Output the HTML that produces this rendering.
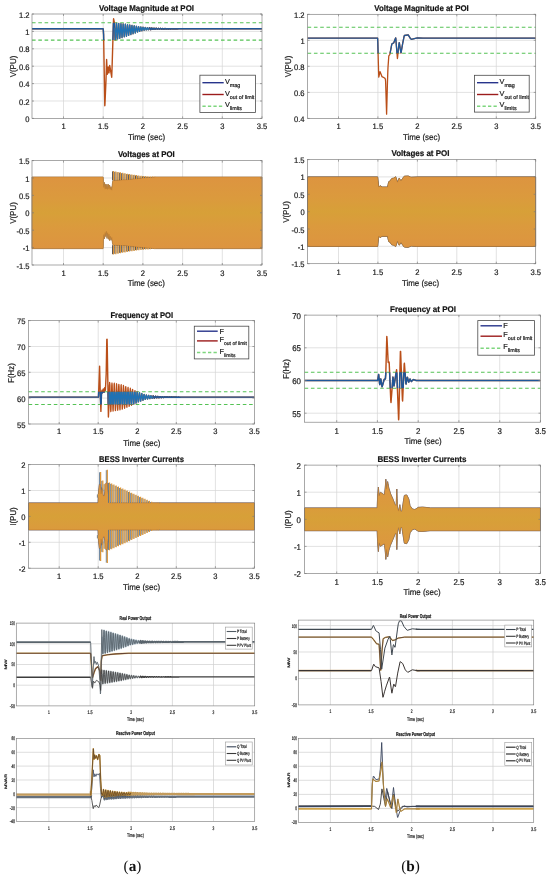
<!DOCTYPE html>
<html lang="en"><head><meta charset="utf-8"><title>Simulation results at POI: (a) and (b)</title>
<style>html,body{margin:0;padding:0;background:#fff}body{width:550px;height:879px;overflow:hidden;position:relative}svg{position:absolute;left:0;top:0;display:block}text{font-family:"Liberation Sans",Arial,sans-serif;fill:#1a1a1a;stroke:#1a1a1a;stroke-width:0.2px}</style></head><body>
<svg width="550" height="879" viewBox="0 0 550 879" text-rendering="geometricPrecision">
<defs><linearGradient id="og" x1="0" y1="0" x2="0" y2="1"><stop offset="0" stop-color="#dd9440"/><stop offset="0.3" stop-color="#db9a3d"/><stop offset="0.5" stop-color="#d7a038"/><stop offset="0.7" stop-color="#db9a3d"/><stop offset="1" stop-color="#dd9440"/></linearGradient></defs>
<rect width="550" height="879" fill="#fff"/>
<rect x="32" y="14" width="230" height="104.4" fill="#fff"/>
<path d="M63.5 14V118.4M103.2 14V118.4M142.9 14V118.4M182.6 14V118.4M222.3 14V118.4M32 101H262M32 83.6H262M32 66.2H262M32 48.8H262M32 31.4H262" stroke="#d6d6d6" stroke-width="0.7" fill="none"/>
<path d="M32 22.7H262" stroke="#55c255" stroke-width="1.05" stroke-dasharray="3.6 2.7" fill="none"/>
<path d="M32 40.1H262" stroke="#55c255" stroke-width="1.05" stroke-dasharray="3.6 2.7" fill="none"/>
<polyline points="32,28.8 103.1,28.8 103.3,29.7 103.6,34.9 104.8,105.7 104.9,105.3 106,79.9 106.6,59.5 107.3,74.3 107.5,73.6 108.1,67 108.2,66.9 108.8,72.1 109,72.8 109.7,65.4 111.7,77.2 112,69.5 113.5,20.7 113.6,18.8 114.4,22.7 114.5,23.9 115.3,38.9 115.4,39.8 115.6,39.1 115.9,34.1" fill="none" stroke="#ba4f19" stroke-width="1.4" stroke-linejoin="round"/>
<clipPath id="c1"><rect x="32" y="22.7" width="230" height="17.4"/></clipPath>
<polyline points="32,28.8 103.1,28.8 103.3,29.7 103.6,34.9 104.8,105.7 104.9,105.3 106,79.9 106.6,59.5 107.3,74.3 107.5,73.6 108.1,67 108.2,66.9 108.8,72.1 109,72.8 109.7,65.4 111.7,77.2 112,69.5 113.5,20.7 113.6,18.8 114.4,22.7 114.5,23.9 115.3,38.9 115.4,39.8 115.6,39.1 115.9,34.1" fill="none" stroke="#1f5799" stroke-width="1.4" stroke-linejoin="round" clip-path="url(#c1)"/>
<polyline points="114.7,27.7 115.2,37.7 115.3,39.4 115.5,39.7 115.6,38.4 116.4,23.8 116.5,23 116.7,23.6 117,28.7 117.4,37.7 117.6,39 117.7,38.8 118,34.6 118.5,25.3 118.6,23.6 118.8,23.3 118.9,24.3 119.7,37.6 119.8,38.4 120,37.8 120.3,33.3 120.7,24.9 120.9,23.6 121,23.7 121.2,25 121.8,35.8 121.9,37.4 122.1,37.7 122.2,36.8 123,24.6 123.1,23.8 123.3,24.2 123.6,28.2 124,35.8 124.2,36.9 124.3,36.9 124.5,35.7 125.1,26 125.2,24.5 125.4,24.1 125.5,24.8 126.3,35.6 126.4,36.3 126.6,35.9 126.9,32.5 127.3,25.7 127.5,24.6 127.6,24.6 127.8,25.5 128.4,33.9 128.5,35.1 128.7,35.5 128.8,34.9 129.6,25.6 129.7,24.9 129.9,25.1 130.2,28 130.6,33.7 130.8,34.6 130.9,34.7 131.1,33.9 131.7,26.8 131.8,25.6 132,25.3 132.1,25.7 132.9,33.3 133,33.9 133.2,33.7 133.5,31.4 133.9,26.6 134.1,25.8 134.2,25.7 134.4,26.3 135,31.9 135.1,32.8 135.3,33.1 135.4,32.7 135.9,29 136.2,26.7 136.3,26.2 136.5,26.3 136.8,28 137.2,31.5 137.4,32.1 137.5,32.2 137.7,31.7 138.3,27.5 138.4,26.8 138.6,26.5 138.7,26.7 139,28.3 139.5,31.1 139.6,31.5 139.8,31.4 140.1,30.1 140.5,27.4 140.7,26.9 140.8,26.8 141,27.1 141.6,30.1 141.7,30.7 141.9,30.9 142,30.7 142.5,28.7 142.8,27.4 142.9,27.1 143.1,27.1 143.4,28 143.8,29.9 144,30.2 144.1,30.3 144.3,30.1 145,27.6 145.2,27.4 145.3,27.5 145.6,28.3 146.1,29.8 146.2,30 146.4,30 146.7,29.4 147.1,28 147.3,27.7 147.4,27.6 147.6,27.8 148.3,29.7 148.5,29.8 148.6,29.8 148.9,29.2 149.4,28 149.5,27.9 149.7,27.9 150,28.3 150.4,29.4 150.6,29.6 150.7,29.6 150.9,29.5 151.6,28.2 151.8,28.1 151.9,28.1 152.4,28.8 152.7,29.3 152.8,29.4 153,29.4 153.3,29.1 153.7,28.4 153.9,28.3 154,28.3 154.3,28.4 154.9,29.2 155.1,29.3 155.4,29.2 156,28.4 156.3,28.3 156.6,28.5 157.2,29.2 157.3,29.2 157.6,29.1 158.2,28.4 158.5,28.4 159,28.8 159.4,29.2 159.7,29.1 160.5,28.4 160.8,28.4 161.5,29.1 161.8,29.1 162.3,28.8 162.7,28.5 163,28.5 163.8,29.1 164.1,29.1 165,28.5 165.3,28.6 166,29 166.3,29 167.1,28.6 167.4,28.6 168.3,29 168.7,28.9 169.3,28.6 169.8,28.7 170.4,28.9 170.8,28.9 171.6,28.6 172,28.7 172.6,28.9 173.1,28.9 173.8,28.7 175,28.9 176.1,28.7 177.3,28.9 178.3,28.7 178.6,28.8" fill="none" stroke="#ba4f19" stroke-width="1.15" stroke-linejoin="round"/>
<clipPath id="c2"><rect x="32" y="22.7" width="230" height="17.4"/></clipPath>
<polyline points="114.7,27.7 115.2,37.7 115.3,39.4 115.5,39.7 115.6,38.4 116.4,23.8 116.5,23 116.7,23.6 117,28.7 117.4,37.7 117.6,39 117.7,38.8 118,34.6 118.5,25.3 118.6,23.6 118.8,23.3 118.9,24.3 119.7,37.6 119.8,38.4 120,37.8 120.3,33.3 120.7,24.9 120.9,23.6 121,23.7 121.2,25 121.8,35.8 121.9,37.4 122.1,37.7 122.2,36.8 123,24.6 123.1,23.8 123.3,24.2 123.6,28.2 124,35.8 124.2,36.9 124.3,36.9 124.5,35.7 125.1,26 125.2,24.5 125.4,24.1 125.5,24.8 126.3,35.6 126.4,36.3 126.6,35.9 126.9,32.5 127.3,25.7 127.5,24.6 127.6,24.6 127.8,25.5 128.4,33.9 128.5,35.1 128.7,35.5 128.8,34.9 129.6,25.6 129.7,24.9 129.9,25.1 130.2,28 130.6,33.7 130.8,34.6 130.9,34.7 131.1,33.9 131.7,26.8 131.8,25.6 132,25.3 132.1,25.7 132.9,33.3 133,33.9 133.2,33.7 133.5,31.4 133.9,26.6 134.1,25.8 134.2,25.7 134.4,26.3 135,31.9 135.1,32.8 135.3,33.1 135.4,32.7 135.9,29 136.2,26.7 136.3,26.2 136.5,26.3 136.8,28 137.2,31.5 137.4,32.1 137.5,32.2 137.7,31.7 138.3,27.5 138.4,26.8 138.6,26.5 138.7,26.7 139,28.3 139.5,31.1 139.6,31.5 139.8,31.4 140.1,30.1 140.5,27.4 140.7,26.9 140.8,26.8 141,27.1 141.6,30.1 141.7,30.7 141.9,30.9 142,30.7 142.5,28.7 142.8,27.4 142.9,27.1 143.1,27.1 143.4,28 143.8,29.9 144,30.2 144.1,30.3 144.3,30.1 145,27.6 145.2,27.4 145.3,27.5 145.6,28.3 146.1,29.8 146.2,30 146.4,30 146.7,29.4 147.1,28 147.3,27.7 147.4,27.6 147.6,27.8 148.3,29.7 148.5,29.8 148.6,29.8 148.9,29.2 149.4,28 149.5,27.9 149.7,27.9 150,28.3 150.4,29.4 150.6,29.6 150.7,29.6 150.9,29.5 151.6,28.2 151.8,28.1 151.9,28.1 152.4,28.8 152.7,29.3 152.8,29.4 153,29.4 153.3,29.1 153.7,28.4 153.9,28.3 154,28.3 154.3,28.4 154.9,29.2 155.1,29.3 155.4,29.2 156,28.4 156.3,28.3 156.6,28.5 157.2,29.2 157.3,29.2 157.6,29.1 158.2,28.4 158.5,28.4 159,28.8 159.4,29.2 159.7,29.1 160.5,28.4 160.8,28.4 161.5,29.1 161.8,29.1 162.3,28.8 162.7,28.5 163,28.5 163.8,29.1 164.1,29.1 165,28.5 165.3,28.6 166,29 166.3,29 167.1,28.6 167.4,28.6 168.3,29 168.7,28.9 169.3,28.6 169.8,28.7 170.4,28.9 170.8,28.9 171.6,28.6 172,28.7 172.6,28.9 173.1,28.9 173.8,28.7 175,28.9 176.1,28.7 177.3,28.9 178.3,28.7 178.6,28.8" fill="none" stroke="#1f72b4" stroke-width="1.15" stroke-linejoin="round" clip-path="url(#c2)"/>
<polyline points="149.3,28.3 149.4,28 149.6,27.8 149.7,27.9 150,28.4 150.5,29.4 150.6,29.6 150.8,29.6 151.1,29.2 151.5,28.3 151.7,28.1 151.8,28.1 152,28.1 152.7,29.3 152.9,29.4 153,29.4 153.5,28.8 153.8,28.4 153.9,28.3 154.1,28.3 154.4,28.5 155,29.2 155.1,29.3 155.4,29.1 156,28.4 156.2,28.3 156.5,28.4 157.1,29.1 157.4,29.2 157.7,29.1 158.3,28.4 158.6,28.4 159.3,29.1 159.6,29.2 160.1,28.8 160.5,28.4 160.8,28.5 161.6,29.1 161.9,29.1 162.6,28.5 162.9,28.5 163.4,28.8 163.8,29.1 164.1,29.1 164.9,28.5 165.2,28.5 166.1,29.1 166.4,29 167.1,28.6 167.4,28.6 168.2,29 168.6,29 169.4,28.6 169.8,28.7 170.4,29 170.9,28.9 171.6,28.6 172.2,28.8 172.8,28.9 173.9,28.7 174.9,28.9 176.1,28.7 177.2,28.9 178.4,28.7 179.6,28.8 180.8,28.8 261.9,28.8" fill="none" stroke="#ba4f19" stroke-width="1.4" stroke-linejoin="round"/>
<clipPath id="c3"><rect x="32" y="22.7" width="230" height="17.4"/></clipPath>
<polyline points="149.3,28.3 149.4,28 149.6,27.8 149.7,27.9 150,28.4 150.5,29.4 150.6,29.6 150.8,29.6 151.1,29.2 151.5,28.3 151.7,28.1 151.8,28.1 152,28.1 152.7,29.3 152.9,29.4 153,29.4 153.5,28.8 153.8,28.4 153.9,28.3 154.1,28.3 154.4,28.5 155,29.2 155.1,29.3 155.4,29.1 156,28.4 156.2,28.3 156.5,28.4 157.1,29.1 157.4,29.2 157.7,29.1 158.3,28.4 158.6,28.4 159.3,29.1 159.6,29.2 160.1,28.8 160.5,28.4 160.8,28.5 161.6,29.1 161.9,29.1 162.6,28.5 162.9,28.5 163.4,28.8 163.8,29.1 164.1,29.1 164.9,28.5 165.2,28.5 166.1,29.1 166.4,29 167.1,28.6 167.4,28.6 168.2,29 168.6,29 169.4,28.6 169.8,28.7 170.4,29 170.9,28.9 171.6,28.6 172.2,28.8 172.8,28.9 173.9,28.7 174.9,28.9 176.1,28.7 177.2,28.9 178.4,28.7 179.6,28.8 180.8,28.8 261.9,28.8" fill="none" stroke="#1f5799" stroke-width="1.4" stroke-linejoin="round" clip-path="url(#c3)"/>
<rect x="32" y="14" width="230" height="104.4" fill="none" stroke="#7a7a7a" stroke-width="0.65"/>
<path d="M63.5 118.4v-2M63.5 14v2M103.2 118.4v-2M103.2 14v2M142.9 118.4v-2M142.9 14v2M182.6 118.4v-2M182.6 14v2M222.3 118.4v-2M222.3 14v2M262 118.4v-2M262 14v2M32 118.4h2M262 118.4h-2M32 101h2M262 101h-2M32 83.6h2M262 83.6h-2M32 66.2h2M262 66.2h-2M32 48.8h2M262 48.8h-2M32 31.4h2M262 31.4h-2M32 14h2M262 14h-2" stroke="#7a7a7a" stroke-width="0.65" fill="none"/>
<text x="63.5" y="129.4" font-size="8" text-anchor="middle" textLength="4.2" lengthAdjust="spacingAndGlyphs">1</text>
<text x="103.2" y="129.4" font-size="8" text-anchor="middle" textLength="10.6" lengthAdjust="spacingAndGlyphs">1.5</text>
<text x="142.9" y="129.4" font-size="8" text-anchor="middle" textLength="4.2" lengthAdjust="spacingAndGlyphs">2</text>
<text x="182.6" y="129.4" font-size="8" text-anchor="middle" textLength="10.6" lengthAdjust="spacingAndGlyphs">2.5</text>
<text x="222.3" y="129.4" font-size="8" text-anchor="middle" textLength="4.2" lengthAdjust="spacingAndGlyphs">3</text>
<text x="262" y="129.4" font-size="8" text-anchor="middle" textLength="10.6" lengthAdjust="spacingAndGlyphs">3.5</text>
<text x="29.5" y="121.9" font-size="8" text-anchor="end" textLength="4.2" lengthAdjust="spacingAndGlyphs">0</text>
<text x="29.5" y="104.5" font-size="8" text-anchor="end" textLength="10.6" lengthAdjust="spacingAndGlyphs">0.2</text>
<text x="29.5" y="87.1" font-size="8" text-anchor="end" textLength="10.6" lengthAdjust="spacingAndGlyphs">0.4</text>
<text x="29.5" y="69.7" font-size="8" text-anchor="end" textLength="10.6" lengthAdjust="spacingAndGlyphs">0.6</text>
<text x="29.5" y="52.3" font-size="8" text-anchor="end" textLength="10.6" lengthAdjust="spacingAndGlyphs">0.8</text>
<text x="29.5" y="34.9" font-size="8" text-anchor="end" textLength="4.2" lengthAdjust="spacingAndGlyphs">1</text>
<text x="29.5" y="17.5" font-size="8" text-anchor="end" textLength="10.6" lengthAdjust="spacingAndGlyphs">1.2</text>
<text x="146.5" y="10.5" font-size="8.3" text-anchor="middle" font-weight="bold" textLength="95" lengthAdjust="spacingAndGlyphs" style='fill:#111;'>Voltage Magnitude at POI</text>
<text x="146.5" y="140" font-size="8.5" text-anchor="middle" textLength="37.2" lengthAdjust="spacingAndGlyphs">Time (sec)</text>
<text x="16" y="66.5" font-size="8.5" text-anchor="middle" textLength="21.6" lengthAdjust="spacingAndGlyphs" transform="rotate(-90 16 66.5)">V(PU)</text>
<rect x="199.9" y="75.2" width="55.7" height="37.3" fill="#fff" stroke="#4a4a4a" stroke-width="0.8"/>
<path d="M202.4 82.7H223.7" stroke="#27348b" stroke-width="1.4"/>
<text x="224.9" y="83.9" font-size="7.3" text-anchor="start">V<tspan font-size="5.4" dy="2.8">mag</tspan></text>
<path d="M202.4 94.5H223.7" stroke="#9c1c1c" stroke-width="1.4"/>
<text x="224.9" y="95.7" font-size="7.3" text-anchor="start">V<tspan font-size="5.4" dy="2.8">out of limit</tspan></text>
<path d="M202.4 106.2H223.7" stroke="#7ed67e" stroke-width="1.4" stroke-dasharray="3.3 2.2"/>
<text x="224.9" y="107.4" font-size="7.3" text-anchor="start">V<tspan font-size="5.4" dy="2.8">limits</tspan></text>
<rect x="32" y="160.6" width="230" height="104.4" fill="#fff"/>
<path d="M63.5 160.6V265M103.2 160.6V265M142.9 160.6V265M182.6 160.6V265M222.3 160.6V265M32 247.6H262M32 230.2H262M32 212.8H262M32 195.4H262M32 178H262" stroke="#d6d6d6" stroke-width="0.7" fill="none"/>
<polygon points="32,177 103.1,177 103.3,178.9 103.4,183.6 103.9,187.6 104.5,182.4 105.1,189.2 105.2,188.9 105.7,184.5 105.8,184.1 106.4,189 107,184.3 107.6,189.4 107.8,188.8 108.2,184.4 108.4,184.2 108.8,188.1 109,188.9 109.6,185 110.2,189.5 110.3,189.3 110.9,186.7 111.1,186.7 111.7,189.9 111.8,190.2 112.6,181.7 112.7,181.3 113.3,180.5 113.6,180.4 127.7,179.7 145,177.8 155.2,177 262,177 262,248.6 154.4,248.6 140.8,247.4 126.4,245.8 113.5,245.2 113.3,245.1 112.7,244.3 112.6,244 111.8,237.4 111.7,237.7 111.1,240.3 110.9,240.1 110.3,236.5 110.2,236.1 109.6,240.6 109,234 108.8,234.8 108.4,239.3 108.2,239 107.8,233.5 107.6,232.7 107,238.4 106.4,231.2 106.1,233.6 105.8,236.6 105.7,236.4 105.2,232.7 105.1,232.5 104.5,238.8 103.9,234.5 103.4,240.1 103.3,246.1 103.1,248.6 32,248.6" fill="#6a5a4a" stroke="#6a5a4a" stroke-width="0.5" stroke-linejoin="round"/>
<polygon points="32,177 103.1,177 103.3,178.9 103.4,183.6 103.9,187.6 104.5,182.4 105.1,189.2 105.2,188.9 105.7,184.5 105.8,184.1 106.4,189 107,184.3 107.6,189.4 107.8,188.8 108.2,184.4 108.4,184.2 108.8,188.1 109,188.9 109.6,185 110.2,189.5 110.3,189.3 110.9,186.7 111.1,186.7 111.7,189.9 111.8,190.2 112.6,181.7 112.7,181.3 113.3,180.5 113.6,180.4 127.7,179.7 145,177.8 155.2,177 262,177 262,248.6 154.4,248.6 140.8,247.4 126.4,245.8 113.5,245.2 113.3,245.1 112.7,244.3 112.6,244 111.8,237.4 111.7,237.7 111.1,240.3 110.9,240.1 110.3,236.5 110.2,236.1 109.6,240.6 109,234 108.8,234.8 108.4,239.3 108.2,239 107.8,233.5 107.6,232.7 107,238.4 106.4,231.2 106.1,233.6 105.8,236.6 105.7,236.4 105.2,232.7 105.1,232.5 104.5,238.8 103.9,234.5 103.4,240.1 103.3,246.1 103.1,248.6 32,248.6" fill="url(#og)" stroke="#c07c2c" stroke-width="0.5"/>
<path d="M112.5 180.4V171.4M112.5 245.2V254.2M114.8 180.3V171.8M114.8 245.3V253.8M117.1 180.2V172.3M117.1 245.4V253.3M119.4 180.1V172.7M119.4 245.5V252.9M121.7 180V173.2M121.7 245.6V252.4M124 179.9V173.6M124 245.7V252M126.3 179.7V174.1M126.3 245.9V251.5M128.6 179.5V174.4M128.6 246.1V251.2M130.9 179.2V174.8M130.9 246.4V250.8M133.2 179V175.1M133.2 246.6V250.5M135.5 178.7V175.5M135.5 246.9V250.1M137.8 178.5V175.8M137.8 247.1V249.8M140.1 178.2V176.1M140.1 247.4V249.5M142.4 178V176.3M142.4 247.6V249.3M144.7 177.8V176.5M144.7 247.8V249.1M147 177.6V176.6M147 248V249M149.3 177.4V176.8M149.3 248.2V248.8M151.6 177.2V176.9M151.6 248.4V248.7M153.9 177V177.1M153.9 248.6V248.5" stroke="#3a3a44" stroke-width="0.9" fill="none"/>
<path d="M113.5 180.4V171M113.5 245.2V254.6M115.8 180.3V171.4M115.8 245.3V254.2M118.1 180.2V171.9M118.1 245.4V253.7M120.4 180.1V172.3M120.4 245.5V253.3M122.7 180V172.8M122.7 245.6V252.8M125 179.9V173.2M125 245.7V252.4M127.3 179.7V173.7M127.3 245.9V251.9M129.6 179.5V174M129.6 246.1V251.6M131.9 179.2V174.4M131.9 246.4V251.2M134.2 179V174.7M134.2 246.6V250.9M136.5 178.7V175.1M136.5 246.9V250.5M138.8 178.5V175.4M138.8 247.1V250.2M141.1 178.2V175.7M141.1 247.4V249.9M143.4 178V175.9M143.4 247.6V249.7M145.7 177.8V176.1M145.7 247.8V249.5M148 177.6V176.2M148 248V249.4M150.3 177.4V176.4M150.3 248.2V249.2M152.6 177.2V176.5M152.6 248.4V249.1M154.9 177V176.7M154.9 248.6V248.9" stroke="#dc9638" stroke-width="1.25" fill="none"/>
<rect x="32" y="160.6" width="230" height="104.4" fill="none" stroke="#7a7a7a" stroke-width="0.65"/>
<path d="M63.5 265v-2M63.5 160.6v2M103.2 265v-2M103.2 160.6v2M142.9 265v-2M142.9 160.6v2M182.6 265v-2M182.6 160.6v2M222.3 265v-2M222.3 160.6v2M262 265v-2M262 160.6v2M32 265h2M262 265h-2M32 247.6h2M262 247.6h-2M32 230.2h2M262 230.2h-2M32 212.8h2M262 212.8h-2M32 195.4h2M262 195.4h-2M32 178h2M262 178h-2M32 160.6h2M262 160.6h-2" stroke="#7a7a7a" stroke-width="0.65" fill="none"/>
<text x="63.5" y="276" font-size="8" text-anchor="middle" textLength="4.2" lengthAdjust="spacingAndGlyphs">1</text>
<text x="103.2" y="276" font-size="8" text-anchor="middle" textLength="10.6" lengthAdjust="spacingAndGlyphs">1.5</text>
<text x="142.9" y="276" font-size="8" text-anchor="middle" textLength="4.2" lengthAdjust="spacingAndGlyphs">2</text>
<text x="182.6" y="276" font-size="8" text-anchor="middle" textLength="10.6" lengthAdjust="spacingAndGlyphs">2.5</text>
<text x="222.3" y="276" font-size="8" text-anchor="middle" textLength="4.2" lengthAdjust="spacingAndGlyphs">3</text>
<text x="262" y="276" font-size="8" text-anchor="middle" textLength="10.6" lengthAdjust="spacingAndGlyphs">3.5</text>
<text x="29.5" y="268.5" font-size="8" text-anchor="end" textLength="13.1" lengthAdjust="spacingAndGlyphs">-1.5</text>
<text x="29.5" y="251.1" font-size="8" text-anchor="end" textLength="6.8" lengthAdjust="spacingAndGlyphs">-1</text>
<text x="29.5" y="233.7" font-size="8" text-anchor="end" textLength="13.1" lengthAdjust="spacingAndGlyphs">-0.5</text>
<text x="29.5" y="216.3" font-size="8" text-anchor="end" textLength="4.2" lengthAdjust="spacingAndGlyphs">0</text>
<text x="29.5" y="198.9" font-size="8" text-anchor="end" textLength="10.6" lengthAdjust="spacingAndGlyphs">0.5</text>
<text x="29.5" y="181.5" font-size="8" text-anchor="end" textLength="4.2" lengthAdjust="spacingAndGlyphs">1</text>
<text x="29.5" y="164.1" font-size="8" text-anchor="end" textLength="10.6" lengthAdjust="spacingAndGlyphs">1.5</text>
<text x="146.3" y="157" font-size="8.3" text-anchor="middle" font-weight="bold" textLength="56.8" lengthAdjust="spacingAndGlyphs" style='fill:#111;'>Voltages at POI</text>
<text x="146.3" y="285.5" font-size="8.5" text-anchor="middle" textLength="37.2" lengthAdjust="spacingAndGlyphs">Time (sec)</text>
<text x="16" y="213" font-size="8.5" text-anchor="middle" textLength="21.6" lengthAdjust="spacingAndGlyphs" transform="rotate(-90 16 213)">V(PU)</text>
<rect x="28.6" y="320.6" width="225.8" height="103.4" fill="#fff"/>
<path d="M59.2 320.6V424M98.2 320.6V424M137.3 320.6V424M176.3 320.6V424M215.4 320.6V424M28.6 398.1H254.4M28.6 372.3H254.4M28.6 346.5H254.4" stroke="#d6d6d6" stroke-width="0.7" fill="none"/>
<path d="M28.6 391.7H254.4" stroke="#55c255" stroke-width="1.05" stroke-dasharray="3.6 2.7" fill="none"/>
<path d="M28.6 404.4H254.4" stroke="#55c255" stroke-width="1.05" stroke-dasharray="3.6 2.7" fill="none"/>
<polyline points="28.6,397.1 98.4,397.1 98.5,396.4 99.6,366.1 100.3,394 100.9,411.4 101.5,393.1 102,390.1 102.1,390.4 102.6,392.7 102.7,392.5 103.3,388.9 103.9,391.9 104.1,392.2 104.7,387.8 105.4,390.3 106.2,373.6 106.8,339.3 107.1,339.2 107.2,343.4 108,391.9 108.4,417 108.9,406.1 109.5,384.5" fill="none" stroke="#ba4f19" stroke-width="1.4" stroke-linejoin="round"/>
<clipPath id="c4"><rect x="28.6" y="391.7" width="225.8" height="12.7"/></clipPath>
<polyline points="28.6,397.1 98.4,397.1 98.5,396.4 99.6,366.1 100.3,394 100.9,411.4 101.5,393.1 102,390.1 102.1,390.4 102.6,392.7 102.7,392.5 103.3,388.9 103.9,391.9 104.1,392.2 104.7,387.8 105.4,390.3 106.2,373.6 106.8,339.3 107.1,339.2 107.2,343.4 108,391.9 108.4,417 108.9,406.1 109.5,384.5" fill="none" stroke="#1f5799" stroke-width="1.4" stroke-linejoin="round" clip-path="url(#c4)"/>
<polyline points="108.9,405.6 109.5,384.3 109.6,382.4 109.8,382.9 110.1,390.6 110.5,407.4 110.7,410.7 110.8,411.7 111,410.3 111.3,401.6 111.7,385.7 111.9,383.2 112,383 112.2,385.1 112.9,409.5 113.1,411.2 113.2,410.6 113.5,403.2 114,387.2 114.1,384.1 114.3,383.2 114.4,384.6 114.9,398.6 115.2,408.1 115.3,410.4 115.5,410.6 115.6,408.4 116.4,385.3 116.5,383.7 116.7,384.4 117,391.6 117.4,406.6 117.6,409.5 117.7,410.3 117.9,408.9 118.3,395.5 118.6,386.6 118.8,384.4 118.9,384.4 119.1,386.5 119.8,408.4 120,409.8 120.1,409.1 120.4,402.2 120.9,388 121,385.3 121.2,384.6 121.3,386 122.1,407.1 122.2,409.1 122.4,409 122.5,407 123.1,389.6 123.3,386.6 123.4,385.4 123.6,386.2 123.9,392.6 124.3,405.5 124.5,407.8 124.6,408.3 124.8,407 125.5,388.1 125.7,386.5 125.8,386.6 126,388.5 126.6,403.9 126.7,406.5 126.9,407.4 127,406.7 127.3,400.9 127.8,389.6 127.9,387.7 128.1,387.3 128.2,388.5 129,405.1 129.1,406.4 129.3,406.2 129.6,401.7 130,391.2 130.2,389 130.3,388.2 130.5,388.9 130.8,394 131.2,403.5 131.4,405.1 131.5,405.4 131.7,404.2 132.4,390.5 132.6,389.4 132.7,389.7 133,393.5 133.5,402 133.6,403.7 133.8,404.3 133.9,403.7 134.2,399.5 134.7,392 134.8,390.7 135,390.6 135.1,391.5 135.9,402.3 136,403.1 136.2,402.9 136.5,399.8 136.9,393.3 137.1,392 137.2,391.7 137.4,392.2 137.8,397.5 138.1,401.1 138.3,402 138.4,402 138.6,401.3 139.3,393.2 139.5,392.6 139.6,392.8 139.9,395.1 140.4,400 140.5,400.9 140.7,401.2 140.8,400.8 141.6,394.2 141.7,393.6 141.9,393.5 142,394.1 142.6,399.1 142.8,399.9 142.9,400.3 143.1,400.1 143.4,398.4 143.8,395.1 144,394.5 144.1,394.4 144.3,394.7 145,399 145.2,399.4 145.3,399.4 145.5,399 146.2,395.2 146.4,395 146.5,395.1 146.8,396.2 147.3,398.5 147.4,399 147.6,399.1 147.7,398.9 148.5,395.6 148.6,395.3 148.8,395.4 148.9,395.6 149.5,398.2 149.7,398.6 149.8,398.7 150,398.6 150.3,397.8 150.7,396 150.9,395.7 151,395.7 151.2,395.8 151.9,398.2 152.1,398.4 152.2,398.4 152.5,397.8 153,396.4 153.1,396.1 153.3,396 153.4,396.1 153.9,397.1 154.2,397.9 154.3,398 154.5,398.1 154.6,397.9 155.4,396.4 155.5,396.3 155.7,396.3 156,396.7 156.4,397.5 156.6,397.7 156.7,397.7 157,397.6 157.6,396.7 157.8,396.6 157.9,396.5 158.2,396.8 158.8,397.6 159,397.7 159.1,397.7 159.4,397.4 160,396.6 160.2,396.6 160.5,396.8 161.1,397.5 161.4,397.6 161.7,397.4 162.3,396.7 162.6,396.7 163,397.1 163.5,397.5 163.8,397.5 164.5,396.8 164.8,396.7 165.3,397 165.7,397.4 166,397.5 166.9,396.8 167.2,396.8 168.1,397.4 168.4,397.4 169.2,396.9 169.5,396.9 170.4,397.3 170.8,397.3 171.6,396.9 172,397 172.8,397.3 173.4,397.1 174,397 175,397.2 175.8,397.1 176.2,397" fill="none" stroke="#ba4f19" stroke-width="1.2" stroke-linejoin="round"/>
<clipPath id="c5"><rect x="28.6" y="391.7" width="225.8" height="12.7"/></clipPath>
<polyline points="108.9,405.6 109.5,384.3 109.6,382.4 109.8,382.9 110.1,390.6 110.5,407.4 110.7,410.7 110.8,411.7 111,410.3 111.3,401.6 111.7,385.7 111.9,383.2 112,383 112.2,385.1 112.9,409.5 113.1,411.2 113.2,410.6 113.5,403.2 114,387.2 114.1,384.1 114.3,383.2 114.4,384.6 114.9,398.6 115.2,408.1 115.3,410.4 115.5,410.6 115.6,408.4 116.4,385.3 116.5,383.7 116.7,384.4 117,391.6 117.4,406.6 117.6,409.5 117.7,410.3 117.9,408.9 118.3,395.5 118.6,386.6 118.8,384.4 118.9,384.4 119.1,386.5 119.8,408.4 120,409.8 120.1,409.1 120.4,402.2 120.9,388 121,385.3 121.2,384.6 121.3,386 122.1,407.1 122.2,409.1 122.4,409 122.5,407 123.1,389.6 123.3,386.6 123.4,385.4 123.6,386.2 123.9,392.6 124.3,405.5 124.5,407.8 124.6,408.3 124.8,407 125.5,388.1 125.7,386.5 125.8,386.6 126,388.5 126.6,403.9 126.7,406.5 126.9,407.4 127,406.7 127.3,400.9 127.8,389.6 127.9,387.7 128.1,387.3 128.2,388.5 129,405.1 129.1,406.4 129.3,406.2 129.6,401.7 130,391.2 130.2,389 130.3,388.2 130.5,388.9 130.8,394 131.2,403.5 131.4,405.1 131.5,405.4 131.7,404.2 132.4,390.5 132.6,389.4 132.7,389.7 133,393.5 133.5,402 133.6,403.7 133.8,404.3 133.9,403.7 134.2,399.5 134.7,392 134.8,390.7 135,390.6 135.1,391.5 135.9,402.3 136,403.1 136.2,402.9 136.5,399.8 136.9,393.3 137.1,392 137.2,391.7 137.4,392.2 137.8,397.5 138.1,401.1 138.3,402 138.4,402 138.6,401.3 139.3,393.2 139.5,392.6 139.6,392.8 139.9,395.1 140.4,400 140.5,400.9 140.7,401.2 140.8,400.8 141.6,394.2 141.7,393.6 141.9,393.5 142,394.1 142.6,399.1 142.8,399.9 142.9,400.3 143.1,400.1 143.4,398.4 143.8,395.1 144,394.5 144.1,394.4 144.3,394.7 145,399 145.2,399.4 145.3,399.4 145.5,399 146.2,395.2 146.4,395 146.5,395.1 146.8,396.2 147.3,398.5 147.4,399 147.6,399.1 147.7,398.9 148.5,395.6 148.6,395.3 148.8,395.4 148.9,395.6 149.5,398.2 149.7,398.6 149.8,398.7 150,398.6 150.3,397.8 150.7,396 150.9,395.7 151,395.7 151.2,395.8 151.9,398.2 152.1,398.4 152.2,398.4 152.5,397.8 153,396.4 153.1,396.1 153.3,396 153.4,396.1 153.9,397.1 154.2,397.9 154.3,398 154.5,398.1 154.6,397.9 155.4,396.4 155.5,396.3 155.7,396.3 156,396.7 156.4,397.5 156.6,397.7 156.7,397.7 157,397.6 157.6,396.7 157.8,396.6 157.9,396.5 158.2,396.8 158.8,397.6 159,397.7 159.1,397.7 159.4,397.4 160,396.6 160.2,396.6 160.5,396.8 161.1,397.5 161.4,397.6 161.7,397.4 162.3,396.7 162.6,396.7 163,397.1 163.5,397.5 163.8,397.5 164.5,396.8 164.8,396.7 165.3,397 165.7,397.4 166,397.5 166.9,396.8 167.2,396.8 168.1,397.4 168.4,397.4 169.2,396.9 169.5,396.9 170.4,397.3 170.8,397.3 171.6,396.9 172,397 172.8,397.3 173.4,397.1 174,397 175,397.2 175.8,397.1 176.2,397" fill="none" stroke="#1f72b4" stroke-width="1.2" stroke-linejoin="round" clip-path="url(#c5)"/>
<polyline points="152.9,396.5 153,396.2 153.2,396 153.3,396 153.6,396.5 154.1,397.7 154.2,398 154.4,398.1 154.5,398 155,397.1 155.3,396.5 155.4,396.4 155.6,396.3 155.9,396.6 156.5,397.6 156.6,397.7 156.9,397.6 157.7,396.6 157.8,396.5 158,396.6 158.4,397.1 158.9,397.6 159,397.7 159.3,397.5 159.9,396.7 160.1,396.6 160.2,396.6 160.5,396.8 161.1,397.6 161.3,397.6 161.6,397.5 162.2,396.8 162.5,396.7 162.8,396.8 163.4,397.5 163.7,397.5 164.1,397.2 164.6,396.8 164.9,396.8 165.8,397.4 166.1,397.4 166.8,396.9 167.1,396.8 168,397.4 168.3,397.4 169.2,396.9 169.7,397 170.3,397.3 170.7,397.3 171.5,397 171.9,397 172.7,397.3 173.3,397.1 173.9,397 174.6,397.2 175.2,397.2 176.3,397 177.5,397.2 178.5,397 179.7,397.2 181.1,397.1 182.4,397.1 254.3,397.1" fill="none" stroke="#ba4f19" stroke-width="1.4" stroke-linejoin="round"/>
<clipPath id="c6"><rect x="28.6" y="391.7" width="225.8" height="12.7"/></clipPath>
<polyline points="152.9,396.5 153,396.2 153.2,396 153.3,396 153.6,396.5 154.1,397.7 154.2,398 154.4,398.1 154.5,398 155,397.1 155.3,396.5 155.4,396.4 155.6,396.3 155.9,396.6 156.5,397.6 156.6,397.7 156.9,397.6 157.7,396.6 157.8,396.5 158,396.6 158.4,397.1 158.9,397.6 159,397.7 159.3,397.5 159.9,396.7 160.1,396.6 160.2,396.6 160.5,396.8 161.1,397.6 161.3,397.6 161.6,397.5 162.2,396.8 162.5,396.7 162.8,396.8 163.4,397.5 163.7,397.5 164.1,397.2 164.6,396.8 164.9,396.8 165.8,397.4 166.1,397.4 166.8,396.9 167.1,396.8 168,397.4 168.3,397.4 169.2,396.9 169.7,397 170.3,397.3 170.7,397.3 171.5,397 171.9,397 172.7,397.3 173.3,397.1 173.9,397 174.6,397.2 175.2,397.2 176.3,397 177.5,397.2 178.5,397 179.7,397.2 181.1,397.1 182.4,397.1 254.3,397.1" fill="none" stroke="#1f5799" stroke-width="1.4" stroke-linejoin="round" clip-path="url(#c6)"/>
<rect x="28.6" y="320.6" width="225.8" height="103.4" fill="none" stroke="#7a7a7a" stroke-width="0.65"/>
<path d="M59.2 424v-2M59.2 320.6v2M98.2 424v-2M98.2 320.6v2M137.3 424v-2M137.3 320.6v2M176.3 424v-2M176.3 320.6v2M215.4 424v-2M215.4 320.6v2M254.4 424v-2M254.4 320.6v2M28.6 424h2M254.4 424h-2M28.6 398.1h2M254.4 398.1h-2M28.6 372.3h2M254.4 372.3h-2M28.6 346.5h2M254.4 346.5h-2M28.6 320.6h2M254.4 320.6h-2" stroke="#7a7a7a" stroke-width="0.65" fill="none"/>
<text x="59.2" y="434.3" font-size="8" text-anchor="middle" textLength="4.2" lengthAdjust="spacingAndGlyphs">1</text>
<text x="98.2" y="434.3" font-size="8" text-anchor="middle" textLength="10.6" lengthAdjust="spacingAndGlyphs">1.5</text>
<text x="137.3" y="434.3" font-size="8" text-anchor="middle" textLength="4.2" lengthAdjust="spacingAndGlyphs">2</text>
<text x="176.3" y="434.3" font-size="8" text-anchor="middle" textLength="10.6" lengthAdjust="spacingAndGlyphs">2.5</text>
<text x="215.4" y="434.3" font-size="8" text-anchor="middle" textLength="4.2" lengthAdjust="spacingAndGlyphs">3</text>
<text x="254.4" y="434.3" font-size="8" text-anchor="middle" textLength="10.6" lengthAdjust="spacingAndGlyphs">3.5</text>
<text x="25.5" y="427.5" font-size="8" text-anchor="end" textLength="8.5" lengthAdjust="spacingAndGlyphs">55</text>
<text x="25.5" y="401.6" font-size="8" text-anchor="end" textLength="8.5" lengthAdjust="spacingAndGlyphs">60</text>
<text x="25.5" y="375.8" font-size="8" text-anchor="end" textLength="8.5" lengthAdjust="spacingAndGlyphs">65</text>
<text x="25.5" y="349.9" font-size="8" text-anchor="end" textLength="8.5" lengthAdjust="spacingAndGlyphs">70</text>
<text x="25.5" y="324.1" font-size="8" text-anchor="end" textLength="8.5" lengthAdjust="spacingAndGlyphs">75</text>
<text x="141.8" y="317.5" font-size="8.3" text-anchor="middle" font-weight="bold" textLength="62.8" lengthAdjust="spacingAndGlyphs" style='fill:#111;'>Frequency at POI</text>
<text x="141.8" y="446" font-size="8.5" text-anchor="middle" textLength="37.2" lengthAdjust="spacingAndGlyphs">Time (sec)</text>
<text x="14" y="373" font-size="8.5" text-anchor="middle" textLength="19.9" lengthAdjust="spacingAndGlyphs" transform="rotate(-90 14 373)">F(Hz)</text>
<rect x="194.3" y="326.2" width="54.5" height="32.7" fill="#fff" stroke="#4a4a4a" stroke-width="0.8"/>
<path d="M197 331.2H217.7" stroke="#27348b" stroke-width="1.4"/>
<text x="219.6" y="333.8" font-size="7.3" text-anchor="start">F</text>
<path d="M197 340.9H217.7" stroke="#9c1c1c" stroke-width="1.4"/>
<text x="219.6" y="342.1" font-size="7.3" text-anchor="start">F<tspan font-size="5" dy="2.8">out of limit</tspan></text>
<path d="M197 352.5H217.7" stroke="#7ed67e" stroke-width="1.4" stroke-dasharray="3.3 2.2"/>
<text x="219.6" y="353.7" font-size="7.3" text-anchor="start">F<tspan font-size="5" dy="2.8">limits</tspan></text>
<rect x="28.6" y="464.6" width="225.8" height="103.6" fill="#fff"/>
<path d="M59.2 464.6V568.2M98.2 464.6V568.2M137.3 464.6V568.2M176.3 464.6V568.2M215.4 464.6V568.2M28.6 542.3H254.4M28.6 516.4H254.4M28.6 490.5H254.4" stroke="#d6d6d6" stroke-width="0.7" fill="none"/>
<polygon points="28.6,502.9 97.9,502.9 98.1,501.9 98.5,492.1 99.3,485.2 99.4,484.3 100.5,484.3 100.6,484.6 101.1,493.9 101.7,488.6 101.8,487.7 102.6,488.4 102.9,492 103,494.3 103.2,495.5 104.1,496.2 104.5,493.8 105.6,487.9 105.9,483.7 106,483 107.2,483 107.4,484.1 107.7,490.1 108,492.3 108.3,493.8 108.7,490.5 108.9,502.9 254.4,502.9 254.4,529.9 108.9,529.9 108.7,542.3 108.3,539 107.8,541.4 107.7,542.7 107.4,548.7 107.2,549.8 106,549.8 105.9,549.1 105.6,544.9 104.2,537.2 104.1,536.6 103.2,537.3 103,538.5 102.7,543 102.6,544.4 101.8,545.1 101.4,541.5 101.1,538.9 100.6,548.2 100.5,548.5 99.4,548.5 99.3,547.6 98.5,540.7 98.1,530.9 97.9,529.9 28.6,529.9" fill="#4b5a86" stroke="#4b5a86" stroke-width="0.9" stroke-linejoin="round"/>
<polygon points="28.6,502.9 97.9,502.9 98.1,501.9 98.5,492.1 99.3,485.2 99.4,484.3 100.5,484.3 100.6,484.6 101.1,493.9 101.7,488.6 101.8,487.7 102.6,488.4 102.9,492 103,494.3 103.2,495.5 104.1,496.2 104.5,493.8 105.6,487.9 105.9,483.7 106,483 107.2,483 107.4,484.1 107.7,490.1 108,492.3 108.3,493.8 108.7,490.5 108.9,502.9 254.4,502.9 254.4,529.9 108.9,529.9 108.7,542.3 108.3,539 107.8,541.4 107.7,542.7 107.4,548.7 107.2,549.8 106,549.8 105.9,549.1 105.6,544.9 104.2,537.2 104.1,536.6 103.2,537.3 103,538.5 102.7,543 102.6,544.4 101.8,545.1 101.4,541.5 101.1,538.9 100.6,548.2 100.5,548.5 99.4,548.5 99.3,547.6 98.5,540.7 98.1,530.9 97.9,529.9 28.6,529.9" fill="url(#og)" stroke="#c07c2c" stroke-width="0.5"/>
<path d="M97.4 497.6V494.5M97.4 535.2V538.3M99.6 484.3V472.3M99.6 548.5V560.5M101.8 489.5V480.9M101.8 543.3V551.9M104.1 491.5V484.2M104.1 541.3V548.6M106.3 483V470.2M106.3 549.8V562.6M108.5 502.9V482.9M108.5 529.9V549.9M110.7 502.9V483.9M110.7 529.9V548.9M112.9 502.9V484.9M112.9 529.9V547.9M115.2 502.9V485.9M115.2 529.9V546.9M117.4 502.9V487M117.4 529.9V545.8M119.6 502.9V488M119.6 529.9V544.8M121.8 502.9V489M121.8 529.9V543.8M124 502.9V490M124 529.9V542.8M126.2 502.9V491M126.2 529.9V541.8M128.5 502.9V492M128.5 529.9V540.8M130.7 502.9V493.1M130.7 529.9V539.7M132.9 502.9V494.1M132.9 529.9V538.7M135.1 502.9V495.1M135.1 529.9V537.7M137.3 502.9V496.1M137.3 529.9V536.7M139.6 502.9V497.1M139.6 529.9V535.7M141.8 502.9V498.1M141.8 529.9V534.7M144 502.9V499.1M144 529.9V533.7M146.2 502.9V500.2M146.2 529.9V532.6M148.4 502.9V501.2M148.4 529.9V531.6M150.7 502.9V502.2M150.7 529.9V530.6M152.9 502.9V502.9M152.9 529.9V529.9M155.1 502.9V502.9M155.1 529.9V529.9M157.3 502.9V503M157.3 529.9V529.8M159.5 502.9V503.1M159.5 529.9V529.7" stroke="#4f6f92" stroke-width="0.9" fill="none"/>
<path d="M98.4 497.6V494.1M98.4 535.2V538.7M100.6 484.3V471.9M100.6 548.5V560.9M102.8 489.5V480.5M102.8 543.3V552.3M105.1 491.5V483.8M105.1 541.3V549M107.3 483V469.8M107.3 549.8V563M109.5 502.9V482.5M109.5 529.9V550.3M111.7 502.9V483.5M111.7 529.9V549.3M113.9 502.9V484.5M113.9 529.9V548.3M116.2 502.9V485.5M116.2 529.9V547.3M118.4 502.9V486.6M118.4 529.9V546.2M120.6 502.9V487.6M120.6 529.9V545.2M122.8 502.9V488.6M122.8 529.9V544.2M125 502.9V489.6M125 529.9V543.2M127.2 502.9V490.6M127.2 529.9V542.2M129.5 502.9V491.6M129.5 529.9V541.2M131.7 502.9V492.7M131.7 529.9V540.1M133.9 502.9V493.7M133.9 529.9V539.1M136.1 502.9V494.7M136.1 529.9V538.1M138.3 502.9V495.7M138.3 529.9V537.1M140.6 502.9V496.7M140.6 529.9V536.1M142.8 502.9V497.7M142.8 529.9V535.1M145 502.9V498.7M145 529.9V534.1M147.2 502.9V499.8M147.2 529.9V533M149.4 502.9V500.8M149.4 529.9V532M151.7 502.9V501.8M151.7 529.9V531M153.9 502.9V502.5M153.9 529.9V530.3M156.1 502.9V502.5M156.1 529.9V530.3M158.3 502.9V502.6M158.3 529.9V530.2M160.5 502.9V502.7M160.5 529.9V530.1" stroke="#dc9638" stroke-width="1.25" fill="none"/>
<rect x="28.6" y="464.6" width="225.8" height="103.6" fill="none" stroke="#7a7a7a" stroke-width="0.65"/>
<path d="M59.2 568.2v-2M59.2 464.6v2M98.2 568.2v-2M98.2 464.6v2M137.3 568.2v-2M137.3 464.6v2M176.3 568.2v-2M176.3 464.6v2M215.4 568.2v-2M215.4 464.6v2M254.4 568.2v-2M254.4 464.6v2M28.6 568.2h2M254.4 568.2h-2M28.6 542.3h2M254.4 542.3h-2M28.6 516.4h2M254.4 516.4h-2M28.6 490.5h2M254.4 490.5h-2M28.6 464.6h2M254.4 464.6h-2" stroke="#7a7a7a" stroke-width="0.65" fill="none"/>
<text x="59.2" y="578.5" font-size="8" text-anchor="middle" textLength="4.2" lengthAdjust="spacingAndGlyphs">1</text>
<text x="98.2" y="578.5" font-size="8" text-anchor="middle" textLength="10.6" lengthAdjust="spacingAndGlyphs">1.5</text>
<text x="137.3" y="578.5" font-size="8" text-anchor="middle" textLength="4.2" lengthAdjust="spacingAndGlyphs">2</text>
<text x="176.3" y="578.5" font-size="8" text-anchor="middle" textLength="10.6" lengthAdjust="spacingAndGlyphs">2.5</text>
<text x="215.4" y="578.5" font-size="8" text-anchor="middle" textLength="4.2" lengthAdjust="spacingAndGlyphs">3</text>
<text x="254.4" y="578.5" font-size="8" text-anchor="middle" textLength="10.6" lengthAdjust="spacingAndGlyphs">3.5</text>
<text x="25.5" y="571.7" font-size="8" text-anchor="end" textLength="6.8" lengthAdjust="spacingAndGlyphs">-2</text>
<text x="25.5" y="545.8" font-size="8" text-anchor="end" textLength="6.8" lengthAdjust="spacingAndGlyphs">-1</text>
<text x="25.5" y="519.9" font-size="8" text-anchor="end" textLength="4.2" lengthAdjust="spacingAndGlyphs">0</text>
<text x="25.5" y="494" font-size="8" text-anchor="end" textLength="4.2" lengthAdjust="spacingAndGlyphs">1</text>
<text x="25.5" y="468.1" font-size="8" text-anchor="end" textLength="4.2" lengthAdjust="spacingAndGlyphs">2</text>
<text x="141.5" y="461.5" font-size="8.3" text-anchor="middle" font-weight="bold" textLength="84.8" lengthAdjust="spacingAndGlyphs" style='fill:#111;'>BESS Inverter Currents</text>
<text x="141.5" y="590" font-size="8.5" text-anchor="middle" textLength="37.2" lengthAdjust="spacingAndGlyphs">Time (sec)</text>
<text x="16" y="516.5" font-size="8.5" text-anchor="middle" textLength="18.5" lengthAdjust="spacingAndGlyphs" transform="rotate(-90 16 516.5)">I(PU)</text>
<rect x="16.3" y="623.1" width="238.4" height="82.8" fill="#fff"/>
<path d="M48.9 623.1V705.9M90.1 623.1V705.9M131.2 623.1V705.9M172.4 623.1V705.9M213.5 623.1V705.9M16.3 685.2H254.7M16.3 664.5H254.7M16.3 643.8H254.7" stroke="#d0d0d0" stroke-width="0.7" fill="none"/>
<polyline points="16.3,653.3 90.5,653.3 90.7,654.2 92.3,675.8 92.5,677.6 94.1,672.4 95.5,668.8 95.7,668.5 97.9,666.7 98.1,666.7 99.7,670.8 100.5,679.2 100.7,680.4 101.3,661.5 101.5,659.5 102.1,656.1 102.3,655.8 107.5,654.7 116.1,653.9 128.5,653.3 254.7,653.3" fill="none" stroke="#dcb970" stroke-width="1.6" stroke-linejoin="round"/>
<polyline points="16.3,653.3 90.5,653.3 90.7,654.2 92.3,675.8 92.5,677.6 94.1,672.4 95.5,668.8 95.7,668.5 97.9,666.7 98.1,666.7 99.7,670.8 100.5,679.2 100.7,680.4 101.3,661.5 101.5,659.5 102.1,656.1 102.3,655.8 107.5,654.7 116.1,653.9 128.5,653.3 254.7,653.3" fill="none" stroke="#664434" stroke-width="1.1" stroke-linejoin="round"/>
<polyline points="102.2,636.7 102.6,650.6 102.8,653.3 102.9,654 103.1,652.7 103.5,640.4 103.8,632.3 104,630.4 104.1,630.5 104.3,632.4 104.9,649.3 105,652.2 105.2,653.3 105.3,652.5 105.6,646.2 106.1,633.6 106.2,631.4 106.4,631 106.5,632.4 107.3,651 107.4,652.5 107.6,652.2 107.9,646.9 108.3,634.8 108.5,632.4 108.6,631.6 108.8,632.5 109.1,638.6 109.5,649.9 109.7,651.7 109.8,651.8 110,650.3 110.7,633.5 110.9,632.3 111,632.8 111.3,638 111.8,648.7 111.9,650.7 112.1,651.2 112.2,650.2 113,634.5 113.1,633.1 113.3,633.2 113.4,634.7 114,647.6 114.2,649.7 114.3,650.5 114.5,649.9 114.8,645 115.2,635.6 115.4,634 115.5,633.8 115.7,634.9 116.4,648.7 116.6,649.8 116.7,649.5 117,645.5 117.5,636.7 117.6,635 117.8,634.4 117.9,635.1 118.4,642.6 118.7,647.7 118.8,648.9 119,649 119.1,647.9 119.9,635.9 120,635.2 120.2,635.5 120.5,639.2 120.9,646.7 121.1,648 121.2,648.4 121.4,647.6 122.1,636.9 122.3,636 122.4,636.1 122.7,639 123.2,645.7 123.3,647.1 123.5,647.5 123.6,647.1 123.9,643.9 124.4,637.9 124.5,636.9 124.7,636.8 124.8,637.6 125.6,646 125.7,646.6 125.9,646.4 126.2,644 126.6,638.9 126.8,637.9 126.9,637.7 127.1,638.1 127.8,645.1 128,645.7 128.1,645.7 128.3,645.1 128.9,639.7 129,638.9 129.2,638.5 129.3,638.8 129.6,640.6 130.1,644.3 130.2,644.9 130.4,645 130.5,644.6 131.3,639.5 131.4,639.1 131.6,639.2 131.9,640.6 132.3,643.7 132.5,644.3 132.6,644.5 132.8,644.3 133.2,641.8 133.5,640.1 133.7,639.7 133.8,639.7 134,640 134.7,643.7 134.9,643.9 135,643.8 135.3,642.8 135.8,640.7 135.9,640.3 136.1,640.2 136.2,640.4 137,643.2 137.1,643.4 137.3,643.3 137.6,642.7 138,641.1 138.2,640.8 138.3,640.6 138.5,640.7 138.8,641.4 139.2,642.8 139.4,643.1" fill="none" stroke="#a9bac6" stroke-width="1.6" stroke-linejoin="round"/>
<polyline points="16.3,642.1 90.6,642.1" fill="none" stroke="#59646c" stroke-width="1.9" stroke-linejoin="round"/>
<polyline points="90.2,642.1 90.5,642.1 90.7,643.2 92.2,684.7 92.3,686.9 93.8,658.3 94,656.6 94.7,663.4 94.9,663.3 95.5,661.5 95.6,661.4 96.4,664.4 96.8,663.2 97.1,662.3 97.3,662.2 98.8,666.3 98.9,667.4 99.8,680.6 100.4,693.9 100.6,692.7 101.8,629.6 101.9,631 102.7,652 102.8,653.8 103,653.7 103.1,651.6 103.7,634.2 103.9,631.3 104,630.2 104.2,631.1 104.5,637.8 104.9,650.7 105.1,652.9 105.2,653.2 105.4,651.7 106.1,632.4 106.3,631 106.4,631.4 106.7,637 107.2,649.4 107.3,651.9 107.5,652.6 107.6,651.6 108.1,640.9 108.4,633.6 108.5,631.8 108.7,631.8 108.8,633.4 109.6,650.8 109.7,651.9 109.9,651.4 110.2,645.9 110.6,634.8 110.8,632.8 110.9,632.3 111.1,633.5 111.8,649.7 112,651.1 112.1,651 112.3,649.3 112.9,635.9 113,633.8 113.2,633 113.3,633.7 113.6,638.9 114.1,648.6 114.2,650.2 114.4,650.5 114.5,649.2 115.3,634.8 115.4,633.7 115.6,634.1 115.9,638.4 116.3,647.5 116.5,649.3 116.6,649.8 116.8,649 117.2,641.1 117.5,635.8 117.7,634.6 117.8,634.6 118,635.8 118.7,648.3 118.9,649.1 119,648.6 119.3,644.7 119.8,636.8 119.9,635.5 120.1,635.2 120.2,636 121,647.4 121.1,648.3 121.3,648.2 121.6,645 122,637.8 122.2,636.4 122.3,635.9 122.5,636.4 122.8,639.9 123.2,646.4 123.4,647.4 123.5,647.5 123.7,646.6 124.4,637.4 124.6,636.8 124.7,637 125,639.8 125.5,645.4 125.6,646.4 125.8,646.7 125.9,646.1 126.7,638.4 126.8,637.7 127,637.8 127.1,638.5 127.7,644.5 127.9,645.4 128,645.8 128.2,645.5 128.5,643.3 128.9,639.3 129.1,638.7 129.2,638.6 129.4,639 130.1,644.6 130.3,645 130.4,644.9 130.7,643.4 131.2,640 131.3,639.3 131.5,639.1 131.6,639.4 132.1,642.1 132.4,644 132.5,644.4 132.7,644.5 132.8,644.1 133.6,639.9 133.7,639.7 133.9,639.8 134.2,641 134.6,643.4 134.8,643.8 134.9,643.9 135.1,643.7 135.8,640.5 136,640.2 136.1,640.3 136.4,641.1 136.9,642.9 137,643.3 137.2,643.4 137.3,643.3 137.8,641.9 138.1,640.9 138.2,640.7 138.4,640.6 138.5,640.8 139.3,643 139.4,643.1 139.6,643.1 139.9,642.5 140.3,641.2 140.5,640.9 140.6,640.8 140.8,640.9 141.5,642.8 141.7,642.9 141.8,642.9 142.1,642.5 142.7,641.1 142.9,641 143,641.1 143.3,641.6 143.8,642.6 143.9,642.7 144.1,642.8 144.2,642.7 145,641.3 145.1,641.2 145.3,641.2 145.6,641.6 146,642.4 146.2,642.5 146.3,642.6 146.6,642.4 147.2,641.5 147.4,641.4 147.5,641.4 147.7,641.5" fill="none" stroke="#59646c" stroke-width="0.9" stroke-linejoin="round"/>
<polyline points="139.5,643.1 139.6,643.1 139.9,642.4 140.4,641.1 140.5,640.9 140.7,640.8 140.8,641 141.6,642.8 141.7,643 141.9,642.9 142.2,642.4 142.6,641.3 142.8,641.1 142.9,641 143.1,641.1 143.8,642.6 144,642.8 144.1,642.8 144.4,642.4 145,641.3 145.2,641.2 145.3,641.2 145.8,641.9 146.1,642.4 146.2,642.6 146.4,642.6 146.7,642.3 147.3,641.5 147.4,641.4 147.6,641.4 147.9,641.7 148.5,642.4 148.6,642.4 148.9,642.3 149.5,641.6 149.8,641.5 150.1,641.7 150.7,642.3 151,642.4 151.5,642 151.9,641.5 152.2,641.5 153,642.3 153.3,642.3 153.6,642.2 154.2,641.6 154.5,641.6 155.4,642.3 155.7,642.3 156.4,641.6 156.7,641.6 157.2,641.9 157.6,642.2 157.9,642.3 158.8,641.6 159.1,641.7 159.9,642.2 160.2,642.2 161.1,641.7 161.4,641.7 162.3,642.2 162.7,642.1 163.3,641.7 163.8,641.8 164.5,642.1 165,642.1 165.7,641.7 166.2,641.8 166.8,642.1 167.2,642.1 168,641.8 168.4,641.8 169.2,642.1 169.8,641.9 170.4,641.8 171.4,642.1 172,642 172.6,641.8 173.8,642 175,641.8 176.1,642 177.3,641.8 178.5,642 179.7,641.9 180.7,642 181.9,641.9 183.1,642 184.3,641.9 185.7,641.9 254.7,641.9" fill="none" stroke="#59646c" stroke-width="1.9" stroke-linejoin="round"/>
<polyline points="102.2,673.9 102.6,682 102.8,683.5 102.9,684 103.1,683.2 103.5,676 103.8,671.3 104,670.2 104.1,670.2 104.3,671.4 104.9,681.2 105,682.9 105.2,683.6 105.3,683.1 105.6,679.4 106.1,672 106.2,670.8 106.4,670.5 106.5,671.4 107.3,682.2 107.4,683.1 107.6,682.9 107.9,679.8 108.3,672.8 108.5,671.4 108.6,670.9 108.8,671.4 109.1,675 109.5,681.5 109.7,682.6 109.8,682.7 110,681.8 110.7,672 110.9,671.3 111,671.6 111.3,674.6 111.8,680.9 111.9,682 112.1,682.3 112.2,681.7 113,672.6 113.1,671.8 113.3,671.8 113.4,672.7 114,680.2 114.2,681.5 114.3,681.9 114.5,681.6 114.8,678.7 115.2,673.2 115.4,672.3 115.5,672.1 115.7,672.8 116.4,680.9 116.6,681.5 116.7,681.3 117,679 117.5,673.9 117.6,672.9 117.8,672.5 117.9,672.9 118.4,677.3 118.7,680.3 118.8,681 119,681 119.1,680.4 119.9,673.4 120,673 120.2,673.2 120.5,675.3 120.9,679.7 121.1,680.5 121.2,680.7 121.4,680.2 122.1,674 122.3,673.4 122.4,673.5 122.7,675.2 123.2,679.1 123.3,679.9 123.5,680.2 123.6,679.9 123.9,678.1 124.4,674.6 124.5,674 124.7,673.9 124.8,674.4 125.6,679.3 125.7,679.7 125.9,679.5 126.2,678.1 126.6,675.1 126.8,674.6 126.9,674.4 127.1,674.7 127.8,678.8 128,679.1 128.1,679.1 128.3,678.7 128.9,675.6 129,675.1 129.2,674.9 129.3,675.1 129.6,676.2 130.1,678.3 130.2,678.7 130.4,678.7 130.5,678.5 131.3,675.5 131.4,675.3 131.6,675.3 131.9,676.1 132.3,677.9 132.5,678.3 132.6,678.4 132.8,678.3 133.2,676.8 133.5,675.9 133.7,675.6 133.8,675.6 134,675.8 134.7,677.9 134.9,678.1 135,678 135.3,677.4 135.8,676.2 135.9,676 136.1,675.9 136.2,676 137,677.6 137.1,677.8 137.3,677.7 137.6,677.3 138.2,676.2 138.3,676.2 138.5,676.2 138.9,676.9 139.2,677.5 139.4,677.6" fill="none" stroke="#b8c0c6" stroke-width="1.4" stroke-linejoin="round"/>
<polyline points="16.3,677.3 90.6,677.3" fill="none" stroke="#3c3c3c" stroke-width="1.4" stroke-linejoin="round"/>
<polyline points="90.2,677.3 90.5,677.3 90.7,677.6 91.6,683.8 92.3,687.8 92.5,688.3 93.5,681.1 94.7,683.1 95.5,681.9 96.4,680.3 97,680.6 98.8,681.8 98.9,682 100,684.9 100.1,685.4 100.6,690.3 100.7,690.4 101.5,674.6 101.8,669.7 101.9,670.5 102.7,682.8 102.8,683.9 103,683.8 103.1,682.5 103.7,672.4 103.9,670.7 104,670.1 104.2,670.6 104.5,674.5 104.9,682 105.1,683.3 105.2,683.5 105.4,682.6 106.1,671.4 106.3,670.5 106.4,670.7 106.7,674.1 107.2,681.3 107.3,682.7 107.5,683.2 107.6,682.6 108.1,676.3 108.4,672.1 108.5,671 108.7,671 108.8,671.9 109.6,682.1 109.7,682.7 109.9,682.4 110.2,679.2 110.6,672.7 110.8,671.6 110.9,671.3 111.1,672 111.8,681.5 112,682.3 112.1,682.2 112.4,679.6 112.9,673.4 113,672.1 113.2,671.7 113.3,672.1 113.6,675.1 114.1,680.8 114.2,681.8 114.4,681.9 114.5,681.2 115.3,672.8 115.4,672.1 115.6,672.3 115.9,674.8 116.3,680.2 116.5,681.2 116.6,681.5 116.8,681 117.2,676.4 117.5,673.4 117.7,672.6 117.8,672.6 118,673.3 118.7,680.7 118.9,681.1 119,680.8 119.3,678.5 119.8,673.9 119.9,673.1 120.1,673 120.2,673.5 121,680.1 121.1,680.6 121.3,680.6 121.6,678.7 122,674.5 122.2,673.7 122.3,673.4 122.5,673.7 122.8,675.8 123.2,679.5 123.4,680.1 123.5,680.1 123.7,679.7 124.4,674.3 124.6,673.9 124.7,674.1 125,675.7 125.5,678.9 125.6,679.5 125.8,679.7 125.9,679.4 126.7,674.9 126.8,674.5 127,674.5 127.3,675.7 127.7,678.4 127.9,679 128,679.2 128.2,679 128.5,677.7 128.9,675.4 129.1,675 129.2,675 129.4,675.2 130.1,678.5 130.3,678.7 130.4,678.7 130.7,677.8 131.2,675.8 131.3,675.4 131.5,675.3 131.6,675.4 132.1,677 132.4,678.1 132.5,678.4 132.7,678.4 132.8,678.2 133.6,675.7 133.7,675.6 133.9,675.7 134.2,676.4 134.6,677.8 134.8,678 134.9,678.1 135.1,677.9 135.8,676.1 136,675.9 136.1,675.9 136.4,676.4 136.9,677.5 137,677.7 137.2,677.8 137.3,677.7 138.1,676.3 138.2,676.2 138.4,676.2 138.7,676.5 139.3,677.5 139.4,677.6 139.6,677.6 139.9,677.2 140.3,676.5 140.5,676.3 140.6,676.3 140.9,676.5 141.5,677.4 141.7,677.5 141.8,677.5 142.1,677.2 142.7,676.4 142.9,676.4 143.2,676.5 143.8,677.3 144.1,677.4 144.4,677.2 145,676.6 145.3,676.5 145.7,676.9 146.2,677.3 146.5,677.3 147.2,676.7 147.5,676.6 147.7,676.6" fill="none" stroke="#3c3c3c" stroke-width="0.8" stroke-linejoin="round"/>
<polyline points="139.5,677.6 139.6,677.6 140.1,676.9 140.4,676.4 140.5,676.3 140.7,676.3 141,676.5 141.6,677.4 141.7,677.5 141.9,677.5 142.2,677.2 142.6,676.5 142.9,676.4 143.2,676.6 143.8,677.3 144.1,677.4 144.4,677.2 145,676.5 145.3,676.5 146.2,677.3 146.5,677.3 147.3,676.6 147.6,676.6 148.5,677.2 148.8,677.2 149.7,676.7 150,676.7 150.7,677.1 151,677.2 151.9,676.7 152.2,676.7 153.1,677.2 153.6,677.1 154.2,676.7 154.6,676.7 155.4,677.1 155.8,677.1 156.6,676.7 157,676.8 157.6,677.1 158.1,677.1 158.8,676.7 159.3,676.8 160,677.1 160.5,677 161.1,676.8 161.5,676.8 162.3,677.1 162.9,676.9 163.5,676.8 164.2,677 164.8,677 165.7,676.8 166.9,677 168.1,676.8 169.3,677 170.4,676.8 171.6,677 172.8,676.9 174,677 175,676.9 176.2,677 177.4,676.9 178.6,677 179.8,676.9 181,676.9 182.2,676.9 183.7,676.9 254.7,676.9" fill="none" stroke="#3c3c3c" stroke-width="1.4" stroke-linejoin="round"/>
<rect x="16.3" y="623.1" width="238.4" height="82.8" fill="none" stroke="#808080" stroke-width="0.65"/>
<text x="48.9" y="714.2" font-size="5.2" text-anchor="middle" textLength="1.8" lengthAdjust="spacingAndGlyphs">1</text>
<text x="90.1" y="714.2" font-size="5.2" text-anchor="middle" textLength="5.2" lengthAdjust="spacingAndGlyphs">1.5</text>
<text x="131.2" y="714.2" font-size="5.2" text-anchor="middle" textLength="1.8" lengthAdjust="spacingAndGlyphs">2</text>
<text x="172.4" y="714.2" font-size="5.2" text-anchor="middle" textLength="5.2" lengthAdjust="spacingAndGlyphs">2.5</text>
<text x="213.5" y="714.2" font-size="5.2" text-anchor="middle" textLength="1.8" lengthAdjust="spacingAndGlyphs">3</text>
<text x="254.7" y="714.2" font-size="5.2" text-anchor="middle" textLength="5.2" lengthAdjust="spacingAndGlyphs">3.5</text>
<text x="15" y="707.8" font-size="5.2" text-anchor="end" textLength="5.2" lengthAdjust="spacingAndGlyphs">-50</text>
<text x="15" y="687.1" font-size="5.2" text-anchor="end" textLength="1.8" lengthAdjust="spacingAndGlyphs">0</text>
<text x="15" y="666.4" font-size="5.2" text-anchor="end" textLength="3.5" lengthAdjust="spacingAndGlyphs">50</text>
<text x="15" y="645.7" font-size="5.2" text-anchor="end" textLength="5.2" lengthAdjust="spacingAndGlyphs">100</text>
<text x="15" y="625" font-size="5.2" text-anchor="end" textLength="5.2" lengthAdjust="spacingAndGlyphs">150</text>
<text x="135.4" y="620.2" font-size="5.6" text-anchor="middle" font-weight="bold" textLength="31.6" lengthAdjust="spacingAndGlyphs" style='fill:#111;'>Real Power Output</text>
<text x="135.4" y="721.2" font-size="5.2" text-anchor="middle" textLength="17" lengthAdjust="spacingAndGlyphs">Time (sec)</text>
<text x="7.4" y="664.5" font-size="3.6" text-anchor="middle" textLength="10" lengthAdjust="spacingAndGlyphs" transform="rotate(-90 7.4 664.5)">MW</text>
<rect x="225.5" y="627.1" width="26.7" height="22" fill="#fff" stroke="#9a9a9a" stroke-width="0.6"/>
<path d="M226.7 631.5H236.3" stroke="#4f5a62" stroke-width="1.1"/>
<text x="236.9" y="633" font-size="4.6" text-anchor="start" textLength="9.9" lengthAdjust="spacingAndGlyphs">P Total</text>
<path d="M226.7 638.5H236.3" stroke="#3a3a3a" stroke-width="1.1"/>
<text x="236.9" y="640" font-size="4.6" text-anchor="start" textLength="12.8" lengthAdjust="spacingAndGlyphs">P Battery</text>
<path d="M226.7 645.3H236.3" stroke="#3a3a3a" stroke-width="1.1"/>
<text x="236.9" y="646.8" font-size="4.6" text-anchor="start" textLength="14.2" lengthAdjust="spacingAndGlyphs">P PV Plant</text>
<rect x="16.3" y="738.5" width="238.4" height="82.9" fill="#fff"/>
<path d="M48.9 738.5V821.4M90.1 738.5V821.4M131.2 738.5V821.4M172.4 738.5V821.4M213.5 738.5V821.4M16.3 807.6H254.7M16.3 793.8H254.7M16.3 780H254.7M16.3 766.1H254.7M16.3 752.3H254.7" stroke="#d0d0d0" stroke-width="0.7" fill="none"/>
<polyline points="16.3,797 90.7,797 91,795.1" fill="none" stroke="#66707c" stroke-width="2.4" stroke-linejoin="round"/>
<polyline points="103.2,794.4 103.4,793.9 103.5,793.9 103.7,794.4 104.3,798.4 104.4,799 104.6,799.3 104.7,799.1 105,797.7 105.5,794.8 105.6,794.3 105.8,794.2 105.9,794.5 106.7,798.7 106.8,799 107,798.9 107.3,797.8 107.7,795.1 107.9,794.6 108,794.4 108.2,794.6 108.6,796.8 108.9,798.3 109.1,798.7 109.2,798.7 109.4,798.4 110.1,794.9 110.3,794.7 110.4,794.8 110.7,795.8 111.2,798 111.3,798.4 111.5,798.5 111.6,798.3 112.4,795.2 112.5,794.9 112.7,794.9 113,795.8 113.4,797.8 113.6,798.2 113.7,798.4 113.9,798.2 114.2,797.3 114.6,795.5 114.8,795.1 114.9,795.1 115.1,795.3 115.8,798 116,798.2 116.1,798.1 116.4,797.4 116.9,795.7 117,795.3 117.2,795.2 117.3,795.4 117.8,796.8 118.1,797.7 118.2,798 118.4,798 118.5,797.8 119.3,795.5 119.4,795.4 119.6,795.5 119.9,796.1 120.3,797.6 120.5,797.8 120.6,797.9 120.8,797.7 121.5,795.7 121.7,795.5 121.8,795.6 122.1,796.1 122.6,797.4 122.7,797.6 122.9,797.7 123,797.7 123.3,797.1 123.8,795.9 123.9,795.7 124.1,795.7 124.2,795.8 125,797.5 125.1,797.6 125.3,797.6 125.6,797.1 126,796 126.2,795.8 126.3,795.8 126.5,795.8 127.2,797.4 127.4,797.5 127.5,797.5 127.8,797.1 128.4,795.9 128.6,795.9 128.7,795.9 129,796.3 129.5,797.2 129.6,797.4 129.8,797.4 129.9,797.3 130.7,796.1 130.8,795.9 131,796 131.3,796.3 131.7,797.1 131.9,797.3 132,797.4 132.2,797.3 132.6,796.6 132.9,796.2 133.1,796 133.2,796 133.5,796.3 134.1,797.2 134.3,797.3 134.4,797.3 134.7,796.9 135.2,796.3 135.3,796.1 135.5,796.1 135.8,796.3 136.4,797.1 136.5,797.2 136.7,797.2 137,797 137.6,796.2 137.7,796.1 138,796.3 138.6,797 138.9,797.2 139.2,797 139.8,796.3 140.1,796.2 140.6,796.6 141,797.1 141.3,797.1 142.1,796.3 142.4,796.3 142.7,796.4 143.3,797 143.6,797 144.5,796.3 144.8,796.3 145.5,797 145.8,797 146.3,796.7 146.7,796.4 147,796.4 147.9,797 148.2,796.9 149,796.4 149.3,796.4 150.2,796.9 150.5,796.9 151.4,796.4 151.7,796.4 152.4,796.9 152.7,796.9 153.6,796.4 154.1,796.5 154.7,796.9 155.1,796.9 155.9,796.5 156.3,796.5 157.1,796.9 157.5,796.8 158.3,796.5 158.7,796.6 159.3,796.8 159.8,796.8 160.5,796.5 161,796.6 161.7,796.8 162.3,796.7 162.9,796.5 164,796.8 164.6,796.7 165.2,796.5 166.4,796.8 167.4,796.5 168.6,796.8 169.8,796.6 170.9,796.8 172.1,796.6 173.3,796.8 174.3,796.6 175.5,796.8 176.7,796.6 177.9,796.7 179,796.6 180.2,796.7 181.4,796.6 182.4,796.7 183.6,796.6 184.8,796.7 186,796.6 187.2,796.7 188.3,796.6 189.5,796.7 190.7,796.6 191.9,796.7 193.1,796.7 194.3,796.7 195.5,796.7 196.8,796.7 199.1,796.7 201.5,796.7 203.9,796.6 254.6,796.7" fill="none" stroke="#66707c" stroke-width="2.2" stroke-linejoin="round"/>
<polyline points="90.5,796.2 90.6,796.2 90.8,795.8 91.8,788.6 93.2,769.8 93.9,776.4 94.1,776.9 94.8,773.8 95.7,776.2 95.9,776.4 96.9,773.9 97.1,773.8 98.4,775.1 99.3,773.3 99.5,773.5 100.5,788.8 101.3,797.2 101.4,797.8 103.2,795.8 103.4,793.1 103.5,793.1 103.7,793.5 104.4,798.2 104.6,798.5 104.7,798.3 105,796.9 105.5,794 105.6,793.5 105.8,793.4 105.9,793.7 106.7,797.8 106.8,798.2 107,798.1 107.3,797 107.7,794.4 107.9,793.8 108,793.6 108.2,793.8 108.5,795.1 108.9,797.5 109.1,797.9 109.2,797.9 109.4,797.6 110.1,794.1 110.3,793.9 110.4,793.9 110.7,795 111.2,797.2 111.3,797.6 111.5,797.7 111.6,797.5 112.1,795.7 112.4,794.4 112.5,794.1 112.7,794.1 112.8,794.4 113.6,797.3 113.7,797.5 113.9,797.4 114.2,796.5 114.6,794.7 114.8,794.3 114.9,794.3 115.1,794.4 115.8,797.1 116,797.3 116.1,797.3 116.4,796.6 116.9,794.9 117,794.5 117.2,794.4 117.3,794.5 117.6,795.4 118.1,796.9 118.2,797.1 118.4,797.2 118.5,797 119.3,794.7 119.4,794.6 119.6,794.6 119.9,795.3 120.3,796.7 120.5,797 120.6,797 120.8,796.9 121.5,794.9 121.7,794.7 121.8,794.7 122.1,795.2 122.6,796.5 122.7,796.8 122.9,796.9 123,796.9 123.3,796.3 123.8,795.1 123.9,794.9 124.1,794.8 124.2,794.9 125,796.7 125.1,796.8 125.3,796.8 125.6,796.3 126,795.2 126.2,795 126.3,794.9 126.5,795 126.9,795.9 127.2,796.5 127.4,796.7 127.5,796.7 127.8,796.3 128.4,795.1 128.6,795 128.7,795.1 129,795.5 129.5,796.4 129.6,796.6 129.8,796.6 129.9,796.5 130.7,795.2 130.8,795.1 131,795.1 131.1,795.2" fill="none" stroke="#46536a" stroke-width="0.9" stroke-linejoin="round"/>
<polyline points="90.1,795.8 90.7,795.8 91.1,797.3 91.9,800.6 93.1,808.2 93.3,808.7 93.9,806.1 94.1,805.6 94.9,806.7 95.1,806.8 96.1,805 96.3,805 97.7,806.9 98.9,807.6 99.7,804.9 100.9,799 101.9,795.6 102.1,795.2 106.5,795.8" fill="none" stroke="#4a4a4a" stroke-width="0.9" stroke-linejoin="round"/>
<polyline points="16.3,794.7 90.7,794.7 91,790.9" fill="none" stroke="#c49c5c" stroke-width="2.2" stroke-linejoin="round"/>
<polyline points="127.1,794.4 127.3,794.7 127.4,794.9 127.6,794.9 127.9,794.3 128.3,792.9 128.5,792.6 128.6,792.5 128.8,792.6 129.2,793.8 129.5,794.6 129.7,794.8 129.8,794.8 130,794.7 130.7,792.8 130.9,792.7 131,792.7 131.3,793.3 131.8,794.4 131.9,794.7 132.1,794.7 132.2,794.6 133,793 133.1,792.8 133.3,792.8 133.6,793.3 134.2,794.6 134.3,794.7 134.5,794.6 134.8,794.1 135.2,793.1 135.4,793 135.5,792.9 135.7,793 136.4,794.5 136.6,794.6 136.7,794.6 137,794.2 137.5,793.3 137.6,793.1 137.8,793 137.9,793.1 138.7,794.4 138.8,794.5 139,794.5 139.3,794.2 139.9,793.2 140,793.1 140.2,793.2 140.5,793.5 140.9,794.3 141.1,794.4 141.2,794.5 141.5,794.2 142.1,793.3 142.3,793.2 142.4,793.3 142.7,793.5 143.3,794.4 143.5,794.4 143.8,794.3 144.4,793.4 144.5,793.3 144.7,793.3 145,793.5 145.6,794.3 145.7,794.4 146,794.3 146.8,793.4 146.9,793.4 147.2,793.6 147.8,794.2 148.1,794.3 148.4,794.1 149,793.5 149.3,793.5 150.2,794.3 150.5,794.3 151.3,793.6 151.6,793.5 152,793.9 152.5,794.2 152.8,794.3 153.7,793.6 154,793.6 154.7,794.2 155,794.2 155.9,793.6 156.2,793.6 157.1,794.2 157.4,794.2 158.2,793.7 158.5,793.7 159.4,794.2 159.7,794.2 160.4,793.7 160.7,793.7 161.6,794.2 162.1,794.1 162.8,793.7 163.3,793.8 163.9,794.1 164.3,794.1 165.1,793.8 165.5,793.8 166.3,794.2 166.7,794.1 167.3,793.8 167.8,793.8 168.5,794.1 169,794.1 169.7,793.8 170.3,794 170.9,794.1 172,793.8 172.6,794 173.2,794.1 173.9,793.9 174.5,793.9 175.4,794.1 176.2,794 176.8,793.9 177.8,794.1 179,793.9 180.1,794.1 181.3,793.9 182.5,794.1 183.5,793.9 184.7,794.1 185.9,793.9 187.1,794.1 188.2,793.9 189.4,794.1 190.6,794 191.6,794.1 192.8,794 194,794.1 195.2,794 196.4,794 197.6,794 198.7,794 199.9,794 201.1,794 202.3,794 203.5,794 204.8,794 254.6,794" fill="none" stroke="#c49c5c" stroke-width="2.2" stroke-linejoin="round"/>
<polyline points="90.5,795 90.6,795 90.8,794.3 91.8,779.8 93.3,748.7 93.5,750.2 93.9,758.2 94.1,759.3 94.7,754.9 95.4,758.1 95.6,758.2 96.5,755.7 97.5,759.4 97.7,759.6 98.9,754.3 99.8,755.6 100.7,780.3 101.6,794.1 101.7,793.1 102,794.8 102.2,795.3 102.3,795.4 102.5,795.2 102.9,793.1 103.2,791.7 103.4,789.4 103.5,789.4 103.7,790 104.4,796.8 104.6,797.2 104.7,797 105,794.9 105.5,790.8 105.6,790 105.8,789.9 105.9,790.3 106.7,796.3 106.8,796.8 107,796.8 107.3,795.2 107.7,791.4 107.9,790.6 108,790.3 108.2,790.6 108.5,792.4 108.9,795.9 109.1,796.5 109.2,796.6 109.4,796.2 110.1,791.1 110.3,790.7 110.4,790.8 110.7,792.3 111.2,795.5 111.3,796.2 111.5,796.3 111.6,796.1 112.1,793.4 112.4,791.6 112.5,791.1 112.7,791.1 112.8,791.5 113.6,795.9 113.7,796.1 113.9,796 114.2,794.7 114.6,792 114.8,791.5 114.9,791.4 115.1,791.7 115.8,795.6 116,795.9 116.1,795.9 116.4,794.8 116.9,792.4 117,791.9 117.2,791.7 117.3,791.9 117.6,793.1 118.1,795.3 118.2,795.7 118.4,795.7 118.5,795.5 119.3,792.2 119.4,792 119.6,792.1 119.9,793 120.3,795.1 120.5,795.5 120.6,795.6 120.8,795.4 121.5,792.5 121.7,792.2 121.8,792.2 122,792.5 122.7,795.3 122.9,795.4 123,795.3 123.3,794.5 123.8,792.8 123.9,792.5 124.1,792.4 124.2,792.6 125,795.1 125.1,795.3 125.3,795.3 125.6,794.6 126,793 126.2,792.7 126.3,792.6 126.5,792.7 126.9,794 127.2,794.9 127.4,795.2 127.5,795.2 127.7,795 128.4,792.9 128.6,792.8 128.7,792.8 129,793.5 129.5,794.8 129.6,795 129.8,795.1 129.9,795 130.7,793.1 130.8,793 131,793 131.1,793.1" fill="none" stroke="#d49a2e" stroke-width="1.3" stroke-linejoin="round"/>
<polyline points="90.5,795 90.6,795 90.8,794.3 91.8,779.8 93.3,748.7 93.5,750.2 93.9,758.2 94.1,759.3 94.7,754.9 95.4,758.1 95.6,758.2 96.5,755.7 97.5,759.4 97.7,759.6 98.9,754.3 99.8,755.6 100.7,780.3 101.6,794.1 101.7,793.1 102,794.8 102.2,795.3 102.3,795.4 102.5,795.2 102.9,793.1 103.2,791.7 103.4,789.4 103.5,789.4 103.7,790 104.4,796.8 104.6,797.2 104.7,797 105,794.9 105.5,790.8 105.6,790 105.8,789.9 105.9,790.3 106.7,796.3 106.8,796.8 107,796.8 107.3,795.2 107.7,791.4 107.9,790.6 108,790.3 108.2,790.6 108.5,792.4 108.9,795.9 109.1,796.5 109.2,796.6 109.4,796.2 110.1,791.1 110.3,790.7 110.4,790.8 110.7,792.3 111.2,795.5 111.3,796.2 111.5,796.3 111.6,796.1 112.1,793.4 112.4,791.6 112.5,791.1 112.7,791.1 112.8,791.5 113.6,795.9 113.7,796.1 113.9,796 114.2,794.7 114.6,792 114.8,791.5 114.9,791.4 115.1,791.7 115.8,795.6 116,795.9 116.1,795.9 116.4,794.8 116.9,792.4 117,791.9 117.2,791.7 117.3,791.9 117.6,793.1 118.1,795.3 118.2,795.7 118.4,795.7 118.5,795.5 119.3,792.2 119.4,792 119.6,792.1 119.9,793 120.3,795.1 120.5,795.5 120.6,795.6 120.8,795.4 121.5,792.5 121.7,792.2 121.8,792.2 122,792.5 122.7,795.3 122.9,795.4 123,795.3 123.3,794.5 123.8,792.8 123.9,792.5 124.1,792.4 124.2,792.6 125,795.1 125.1,795.3 125.3,795.3 125.6,794.6 126,793 126.2,792.7 126.3,792.6 126.5,792.7 126.9,794 127.2,794.9 127.4,795.2 127.5,795.2 127.7,795 128.4,792.9 128.6,792.8 128.7,792.8 129,793.5 129.5,794.8 129.6,795 129.8,795.1 129.9,795 130.7,793.1 130.8,793 131,793 131.1,793.1" fill="none" stroke="#5e452e" stroke-width="0.8" stroke-linejoin="round"/>
<rect x="16.3" y="738.5" width="238.4" height="82.9" fill="none" stroke="#808080" stroke-width="0.65"/>
<text x="48.9" y="829.7" font-size="5.2" text-anchor="middle" textLength="1.8" lengthAdjust="spacingAndGlyphs">1</text>
<text x="90.1" y="829.7" font-size="5.2" text-anchor="middle" textLength="5.2" lengthAdjust="spacingAndGlyphs">1.5</text>
<text x="131.2" y="829.7" font-size="5.2" text-anchor="middle" textLength="1.8" lengthAdjust="spacingAndGlyphs">2</text>
<text x="172.4" y="829.7" font-size="5.2" text-anchor="middle" textLength="5.2" lengthAdjust="spacingAndGlyphs">2.5</text>
<text x="213.5" y="829.7" font-size="5.2" text-anchor="middle" textLength="1.8" lengthAdjust="spacingAndGlyphs">3</text>
<text x="254.7" y="829.7" font-size="5.2" text-anchor="middle" textLength="5.2" lengthAdjust="spacingAndGlyphs">3.5</text>
<text x="15" y="823.3" font-size="5.2" text-anchor="end" textLength="5.2" lengthAdjust="spacingAndGlyphs">-40</text>
<text x="15" y="809.5" font-size="5.2" text-anchor="end" textLength="5.2" lengthAdjust="spacingAndGlyphs">-20</text>
<text x="15" y="795.6" font-size="5.2" text-anchor="end" textLength="1.8" lengthAdjust="spacingAndGlyphs">0</text>
<text x="15" y="781.8" font-size="5.2" text-anchor="end" textLength="3.5" lengthAdjust="spacingAndGlyphs">20</text>
<text x="15" y="768" font-size="5.2" text-anchor="end" textLength="3.5" lengthAdjust="spacingAndGlyphs">40</text>
<text x="15" y="754.2" font-size="5.2" text-anchor="end" textLength="3.5" lengthAdjust="spacingAndGlyphs">60</text>
<text x="15" y="740.4" font-size="5.2" text-anchor="end" textLength="3.5" lengthAdjust="spacingAndGlyphs">80</text>
<text x="135.4" y="735" font-size="5.6" text-anchor="middle" font-weight="bold" textLength="39" lengthAdjust="spacingAndGlyphs" style='fill:#111;'>Reactive Power Output</text>
<text x="135.4" y="836.5" font-size="5.2" text-anchor="middle" textLength="17" lengthAdjust="spacingAndGlyphs">Time (sec)</text>
<text x="7.4" y="781.5" font-size="3.6" text-anchor="middle" textLength="15" lengthAdjust="spacingAndGlyphs" transform="rotate(-90 7.4 781.5)">MVAR</text>
<rect x="225.5" y="742" width="26.7" height="23" fill="#fff" stroke="#9a9a9a" stroke-width="0.6"/>
<path d="M226.7 746.8H236.3" stroke="#3a4658" stroke-width="1.1"/>
<text x="236.9" y="748.3" font-size="4.6" text-anchor="start" textLength="9.9" lengthAdjust="spacingAndGlyphs">Q Total</text>
<path d="M226.7 753.5H236.3" stroke="#3a3a3a" stroke-width="1.1"/>
<text x="236.9" y="755" font-size="4.6" text-anchor="start" textLength="12.8" lengthAdjust="spacingAndGlyphs">Q Battery</text>
<path d="M226.7 760.3H236.3" stroke="#3a3a3a" stroke-width="1.1"/>
<text x="236.9" y="761.8" font-size="4.6" text-anchor="start" textLength="14.2" lengthAdjust="spacingAndGlyphs">Q PV Plant</text>
<rect x="307.6" y="14.3" width="228.1" height="104.1" fill="#fff"/>
<path d="M338.5 14.3V118.4M377.9 14.3V118.4M417.4 14.3V118.4M456.8 14.3V118.4M496.3 14.3V118.4M307.6 92.4H535.7M307.6 66.3H535.7M307.6 40.3H535.7" stroke="#d6d6d6" stroke-width="0.7" fill="none"/>
<path d="M307.6 27.3H535.7" stroke="#55c255" stroke-width="1.05" stroke-dasharray="3.6 2.7" fill="none"/>
<path d="M307.6 53.3H535.7" stroke="#55c255" stroke-width="1.05" stroke-dasharray="3.6 2.7" fill="none"/>
<polyline points="307.6,38.1 377.6,38.1 377.8,42.3 378.6,72.3 378.8,77.1 380,71.7 380.2,71.9 382,76.7 384.6,78 385.4,79.1 385.6,81.3 386.6,114.2 387.4,84.6 387.8,71.9 388,67.4 388.8,56 389,55.6 389.8,54.6 391.2,47.3 391.8,44.1 392.2,43.8 393.8,42.7 395.6,37.9 395.8,38.2 397.4,58.5 397.6,57.4 398.4,49 399.2,42.7 399.4,43 400.2,48.7 401,53.1 402.6,43.8 404.2,35.8 404.4,35.5 408.2,34.9 410.2,38.2 411.4,39.3 412.2,39.2 416.4,38.2 417.4,38 423,38.1 535.6,38.1" fill="none" stroke="#ba4f19" stroke-width="1.3" stroke-linejoin="round"/>
<clipPath id="c7"><rect x="307.6" y="27.3" width="228.1" height="26"/></clipPath>
<polyline points="307.6,38.1 377.6,38.1 377.8,42.3 378.6,72.3 378.8,77.1 380,71.7 380.2,71.9 382,76.7 384.6,78 385.4,79.1 385.6,81.3 386.6,114.2 387.4,84.6 387.8,71.9 388,67.4 388.8,56 389,55.6 389.8,54.6 391.2,47.3 391.8,44.1 392.2,43.8 393.8,42.7 395.6,37.9 395.8,38.2 397.4,58.5 397.6,57.4 398.4,49 399.2,42.7 399.4,43 400.2,48.7 401,53.1 402.6,43.8 404.2,35.8 404.4,35.5 408.2,34.9 410.2,38.2 411.4,39.3 412.2,39.2 416.4,38.2 417.4,38 423,38.1 535.6,38.1" fill="none" stroke="#1f5799" stroke-width="1.3" stroke-linejoin="round" clip-path="url(#c7)"/>
<rect x="307.6" y="14.3" width="228.1" height="104.1" fill="none" stroke="#7a7a7a" stroke-width="0.65"/>
<path d="M338.5 118.4v-2M338.5 14.3v2M377.9 118.4v-2M377.9 14.3v2M417.4 118.4v-2M417.4 14.3v2M456.8 118.4v-2M456.8 14.3v2M496.3 118.4v-2M496.3 14.3v2M535.7 118.4v-2M535.7 14.3v2M307.6 118.4h2M535.7 118.4h-2M307.6 92.4h2M535.7 92.4h-2M307.6 66.3h2M535.7 66.3h-2M307.6 40.3h2M535.7 40.3h-2M307.6 14.3h2M535.7 14.3h-2" stroke="#7a7a7a" stroke-width="0.65" fill="none"/>
<text x="338.5" y="129.4" font-size="8" text-anchor="middle" textLength="4.2" lengthAdjust="spacingAndGlyphs">1</text>
<text x="377.9" y="129.4" font-size="8" text-anchor="middle" textLength="10.6" lengthAdjust="spacingAndGlyphs">1.5</text>
<text x="417.4" y="129.4" font-size="8" text-anchor="middle" textLength="4.2" lengthAdjust="spacingAndGlyphs">2</text>
<text x="456.8" y="129.4" font-size="8" text-anchor="middle" textLength="10.6" lengthAdjust="spacingAndGlyphs">2.5</text>
<text x="496.3" y="129.4" font-size="8" text-anchor="middle" textLength="4.2" lengthAdjust="spacingAndGlyphs">3</text>
<text x="535.7" y="129.4" font-size="8" text-anchor="middle" textLength="10.6" lengthAdjust="spacingAndGlyphs">3.5</text>
<text x="304.6" y="121.9" font-size="8" text-anchor="end" textLength="10.6" lengthAdjust="spacingAndGlyphs">0.4</text>
<text x="304.6" y="95.9" font-size="8" text-anchor="end" textLength="10.6" lengthAdjust="spacingAndGlyphs">0.6</text>
<text x="304.6" y="69.8" font-size="8" text-anchor="end" textLength="10.6" lengthAdjust="spacingAndGlyphs">0.8</text>
<text x="304.6" y="43.8" font-size="8" text-anchor="end" textLength="4.2" lengthAdjust="spacingAndGlyphs">1</text>
<text x="304.6" y="17.8" font-size="8" text-anchor="end" textLength="10.6" lengthAdjust="spacingAndGlyphs">1.2</text>
<text x="421.5" y="10.5" font-size="8.3" text-anchor="middle" font-weight="bold" textLength="94.5" lengthAdjust="spacingAndGlyphs" style='fill:#111;'>Voltage Magnitude at POI</text>
<text x="421.5" y="140" font-size="8.5" text-anchor="middle" textLength="37.2" lengthAdjust="spacingAndGlyphs">Time (sec)</text>
<text x="291" y="66.5" font-size="8.5" text-anchor="middle" textLength="21.6" lengthAdjust="spacingAndGlyphs" transform="rotate(-90 291 66.5)">V(PU)</text>
<rect x="474.5" y="75.3" width="54.7" height="36.8" fill="#fff" stroke="#4a4a4a" stroke-width="0.8"/>
<path d="M477 82.7H498.3" stroke="#27348b" stroke-width="1.4"/>
<text x="499.5" y="83.9" font-size="7.3" text-anchor="start">V<tspan font-size="5.4" dy="2.8">mag</tspan></text>
<path d="M477 94.5H498.3" stroke="#9c1c1c" stroke-width="1.4"/>
<text x="499.5" y="95.7" font-size="7.3" text-anchor="start">V<tspan font-size="5.4" dy="2.8">out of limit</tspan></text>
<path d="M477 106.2H498.3" stroke="#7ed67e" stroke-width="1.4" stroke-dasharray="3.3 2.2"/>
<text x="499.5" y="107.4" font-size="7.3" text-anchor="start">V<tspan font-size="5.4" dy="2.8">limits</tspan></text>
<rect x="307.6" y="159.6" width="228.1" height="104.1" fill="#fff"/>
<path d="M338.5 159.6V263.7M377.9 159.6V263.7M417.4 159.6V263.7M456.8 159.6V263.7M496.3 159.6V263.7M307.6 246.3H535.7M307.6 229H535.7M307.6 211.7H535.7M307.6 194.3H535.7M307.6 176.9H535.7" stroke="#d6d6d6" stroke-width="0.7" fill="none"/>
<polygon points="307.6,176.9 377.6,176.9 377.8,178 378.6,185.9 378.8,187 379.2,186.7 380,185.7 380.4,185.9 382,187 387.6,187 388,184.6 388.8,181.6 389.8,181.2 391.8,178.5 393.8,178.1 395.6,176.8 395.8,176.9 397.4,182.2 397.6,182 398.4,179.7 399.2,178.1 399.4,178.2 400.2,179.7 401,180.8 402.6,178.4 404.2,176.3 404.6,176.2 408.2,176 410.4,177 411.6,177.2 418,176.9 535.6,176.9 535.6,246.4 416.8,246.4 411.4,246.1 410,246.5 408.2,247.3 404.4,247.1 404.2,247 402,244.1 401,242.5 400,244 399.4,245.1 399.2,245.2 398.4,243.6 397.6,241.3 397.4,241.1 395.8,246.4 395.6,246.5 393.8,245.2 391.8,244.8 389.8,242.1 388.8,241.7 388,238.7 387.6,236.3 382,236.3 380.2,237.5 380,237.6 379,236.4 378.8,236.3 378.6,237.4 377.8,245.3 377.6,246.4 307.6,246.4" fill="#4a4a52" stroke="#4a4a52" stroke-width="0.9" stroke-linejoin="round"/>
<polygon points="307.6,176.9 377.6,176.9 377.8,178 378.6,185.9 378.8,187 379.2,186.7 380,185.7 380.4,185.9 382,187 387.6,187 388,184.6 388.8,181.6 389.8,181.2 391.8,178.5 393.8,178.1 395.6,176.8 395.8,176.9 397.4,182.2 397.6,182 398.4,179.7 399.2,178.1 399.4,178.2 400.2,179.7 401,180.8 402.6,178.4 404.2,176.3 404.6,176.2 408.2,176 410.4,177 411.6,177.2 418,176.9 535.6,176.9 535.6,246.4 416.8,246.4 411.4,246.1 410,246.5 408.2,247.3 404.4,247.1 404.2,247 402,244.1 401,242.5 400,244 399.4,245.1 399.2,245.2 398.4,243.6 397.6,241.3 397.4,241.1 395.8,246.4 395.6,246.5 393.8,245.2 391.8,244.8 389.8,242.1 388.8,241.7 388,238.7 387.6,236.3 382,236.3 380.2,237.5 380,237.6 379,236.4 378.8,236.3 378.6,237.4 377.8,245.3 377.6,246.4 307.6,246.4" fill="url(#og)" stroke="#c07c2c" stroke-width="0.5"/>
<rect x="307.6" y="159.6" width="228.1" height="104.1" fill="none" stroke="#7a7a7a" stroke-width="0.65"/>
<path d="M338.5 263.7v-2M338.5 159.6v2M377.9 263.7v-2M377.9 159.6v2M417.4 263.7v-2M417.4 159.6v2M456.8 263.7v-2M456.8 159.6v2M496.3 263.7v-2M496.3 159.6v2M535.7 263.7v-2M535.7 159.6v2M307.6 263.7h2M535.7 263.7h-2M307.6 246.3h2M535.7 246.3h-2M307.6 229h2M535.7 229h-2M307.6 211.7h2M535.7 211.7h-2M307.6 194.3h2M535.7 194.3h-2M307.6 176.9h2M535.7 176.9h-2M307.6 159.6h2M535.7 159.6h-2" stroke="#7a7a7a" stroke-width="0.65" fill="none"/>
<text x="338.5" y="274.7" font-size="8" text-anchor="middle" textLength="4.2" lengthAdjust="spacingAndGlyphs">1</text>
<text x="377.9" y="274.7" font-size="8" text-anchor="middle" textLength="10.6" lengthAdjust="spacingAndGlyphs">1.5</text>
<text x="417.4" y="274.7" font-size="8" text-anchor="middle" textLength="4.2" lengthAdjust="spacingAndGlyphs">2</text>
<text x="456.8" y="274.7" font-size="8" text-anchor="middle" textLength="10.6" lengthAdjust="spacingAndGlyphs">2.5</text>
<text x="496.3" y="274.7" font-size="8" text-anchor="middle" textLength="4.2" lengthAdjust="spacingAndGlyphs">3</text>
<text x="535.7" y="274.7" font-size="8" text-anchor="middle" textLength="10.6" lengthAdjust="spacingAndGlyphs">3.5</text>
<text x="304.6" y="267.2" font-size="8" text-anchor="end" textLength="13.1" lengthAdjust="spacingAndGlyphs">-1.5</text>
<text x="304.6" y="249.8" font-size="8" text-anchor="end" textLength="6.8" lengthAdjust="spacingAndGlyphs">-1</text>
<text x="304.6" y="232.5" font-size="8" text-anchor="end" textLength="13.1" lengthAdjust="spacingAndGlyphs">-0.5</text>
<text x="304.6" y="215.1" font-size="8" text-anchor="end" textLength="4.2" lengthAdjust="spacingAndGlyphs">0</text>
<text x="304.6" y="197.8" font-size="8" text-anchor="end" textLength="10.6" lengthAdjust="spacingAndGlyphs">0.5</text>
<text x="304.6" y="180.4" font-size="8" text-anchor="end" textLength="4.2" lengthAdjust="spacingAndGlyphs">1</text>
<text x="304.6" y="163.1" font-size="8" text-anchor="end" textLength="10.6" lengthAdjust="spacingAndGlyphs">1.5</text>
<text x="420.5" y="156" font-size="8.3" text-anchor="middle" font-weight="bold" textLength="58" lengthAdjust="spacingAndGlyphs" style='fill:#111;'>Voltages at POI</text>
<text x="420.5" y="285.5" font-size="8.5" text-anchor="middle" textLength="37.2" lengthAdjust="spacingAndGlyphs">Time (sec)</text>
<text x="289" y="212" font-size="8.5" text-anchor="middle" textLength="21.6" lengthAdjust="spacingAndGlyphs" transform="rotate(-90 289 212)">V(PU)</text>
<rect x="304.6" y="315.1" width="235.9" height="107.1" fill="#fff"/>
<path d="M336.7 315.1V422.2M377.4 315.1V422.2M418.2 315.1V422.2M458.9 315.1V422.2M499.7 315.1V422.2M304.6 413.2H540.5M304.6 380.5H540.5M304.6 347.8H540.5" stroke="#d6d6d6" stroke-width="0.7" fill="none"/>
<path d="M304.6 372.3H540.5" stroke="#55c255" stroke-width="1.05" stroke-dasharray="3.6 2.7" fill="none"/>
<path d="M304.6 388.3H540.5" stroke="#55c255" stroke-width="1.05" stroke-dasharray="3.6 2.7" fill="none"/>
<clipPath id="c8"><rect x="304.6" y="315.1" width="235.9" height="107.1"/></clipPath>
<g clip-path="url(#c8)">
<polyline points="304.6,380.5 377.6,380.5 377.8,379.8 378.6,374.4 378.8,375.7 379.6,383.7 379.8,384.6 380.6,378.9 380.8,378.9 382,386.7 382.2,386.6 384,380 384.2,379.5 385.4,378.9 385.8,373.3 386.8,336.4 387,338.6 388.2,362.5 389,362 389.2,363 390.8,400.5 391,402.5 392.8,379.1 393,377.1 393.8,385.1 394,385.9 396.6,369.7 396.8,372.9 398.2,408.9 398.6,419.8 398.8,418.4 400.4,351.4 400.6,351.5 402.4,399.5 402.6,401 404.2,364.1 404.4,363.3 405.8,382.5 406,384 407.2,377.4 407.4,377.3 408.6,382.1 408.8,382 410,379 410.6,380.1 411.4,381.6 413.4,379.6 414.4,379.9 416.2,380.5 540.4,380.5" fill="none" stroke="#ba4f19" stroke-width="1.45" stroke-linejoin="round"/>
<clipPath id="c9"><rect x="304.6" y="372.3" width="235.9" height="16"/></clipPath>
<polyline points="304.6,380.5 377.6,380.5 377.8,379.8 378.6,374.4 378.8,375.7 379.6,383.7 379.8,384.6 380.6,378.9 380.8,378.9 382,386.7 382.2,386.6 384,380 384.2,379.5 385.4,378.9 385.8,373.3 386.8,336.4 387,338.6 388.2,362.5 389,362 389.2,363 390.8,400.5 391,402.5 392.8,379.1 393,377.1 393.8,385.1 394,385.9 396.6,369.7 396.8,372.9 398.2,408.9 398.6,419.8 398.8,418.4 400.4,351.4 400.6,351.5 402.4,399.5 402.6,401 404.2,364.1 404.4,363.3 405.8,382.5 406,384 407.2,377.4 407.4,377.3 408.6,382.1 408.8,382 410,379 410.6,380.1 411.4,381.6 413.4,379.6 414.4,379.9 416.2,380.5 540.4,380.5" fill="none" stroke="#1f5799" stroke-width="1.45" stroke-linejoin="round" clip-path="url(#c9)"/>
</g>
<rect x="304.6" y="315.1" width="235.9" height="107.1" fill="none" stroke="#7a7a7a" stroke-width="0.65"/>
<path d="M336.7 422.2v-2M336.7 315.1v2M377.4 422.2v-2M377.4 315.1v2M418.2 422.2v-2M418.2 315.1v2M458.9 422.2v-2M458.9 315.1v2M499.7 422.2v-2M499.7 315.1v2M540.4 422.2v-2M540.4 315.1v2M304.6 413.2h2M540.5 413.2h-2M304.6 380.5h2M540.5 380.5h-2M304.6 347.8h2M540.5 347.8h-2M304.6 315.1h2M540.5 315.1h-2" stroke="#7a7a7a" stroke-width="0.65" fill="none"/>
<text x="336.7" y="433.7" font-size="8.3" text-anchor="middle" textLength="4.4" lengthAdjust="spacingAndGlyphs">1</text>
<text x="377.4" y="433.7" font-size="8.3" text-anchor="middle" textLength="11" lengthAdjust="spacingAndGlyphs">1.5</text>
<text x="418.2" y="433.7" font-size="8.3" text-anchor="middle" textLength="4.4" lengthAdjust="spacingAndGlyphs">2</text>
<text x="458.9" y="433.7" font-size="8.3" text-anchor="middle" textLength="11" lengthAdjust="spacingAndGlyphs">2.5</text>
<text x="499.7" y="433.7" font-size="8.3" text-anchor="middle" textLength="4.4" lengthAdjust="spacingAndGlyphs">3</text>
<text x="540.4" y="433.7" font-size="8.3" text-anchor="middle" textLength="11" lengthAdjust="spacingAndGlyphs">3.5</text>
<text x="301" y="416.8" font-size="8.3" text-anchor="end" textLength="8.8" lengthAdjust="spacingAndGlyphs">55</text>
<text x="301" y="384.1" font-size="8.3" text-anchor="end" textLength="8.8" lengthAdjust="spacingAndGlyphs">60</text>
<text x="301" y="351.4" font-size="8.3" text-anchor="end" textLength="8.8" lengthAdjust="spacingAndGlyphs">65</text>
<text x="301" y="318.7" font-size="8.3" text-anchor="end" textLength="8.8" lengthAdjust="spacingAndGlyphs">70</text>
<text x="423" y="312" font-size="8.4" text-anchor="middle" font-weight="bold" textLength="66" lengthAdjust="spacingAndGlyphs" style='fill:#111;'>Frequency at POI</text>
<text x="423" y="443.5" font-size="8.5" text-anchor="middle" textLength="37.2" lengthAdjust="spacingAndGlyphs">Time (sec)</text>
<text x="289" y="369" font-size="8.5" text-anchor="middle" textLength="19.9" lengthAdjust="spacingAndGlyphs" transform="rotate(-90 289 369)">F(Hz)</text>
<rect x="477.8" y="320.6" width="56.7" height="34.6" fill="#fff" stroke="#4a4a4a" stroke-width="0.8"/>
<path d="M480.5 325.8H502" stroke="#27348b" stroke-width="1.4"/>
<text x="503.3" y="328.4" font-size="7.3" text-anchor="start">F</text>
<path d="M480.5 336.2H502" stroke="#9c1c1c" stroke-width="1.4"/>
<text x="503.3" y="337.4" font-size="7.3" text-anchor="start">F<tspan font-size="5.4" dy="2.8">out of limit</tspan></text>
<path d="M480.5 348.2H502" stroke="#7ed67e" stroke-width="1.4" stroke-dasharray="3.3 2.2"/>
<text x="503.3" y="349.4" font-size="7.3" text-anchor="start">F<tspan font-size="5.4" dy="2.8">limits</tspan></text>
<rect x="304.6" y="465.1" width="235.9" height="108.4" fill="#fff"/>
<path d="M336.7 465.1V573.5M377.4 465.1V573.5M418.2 465.1V573.5M458.9 465.1V573.5M499.7 465.1V573.5M304.6 546.4H540.5M304.6 519.3H540.5M304.6 492.2H540.5" stroke="#d6d6d6" stroke-width="0.7" fill="none"/>
<polygon points="304.6,507.9 377,507.9 377.2,507.8 377.6,497.2 377.8,493.6 378.4,487 379,495.3 379.2,495.8 380.2,492.5 380.4,492.3 384.2,494.8 384.4,494.6 385.2,488 385.4,485.8 385.8,479.2 386,481.1 386.6,489.2 387.6,481.6 388,483.4 388.8,487.9 390.6,493.8 393,499.2 395,504.4 396,505.5 396.2,505.2 396.8,489 397.2,498.8 397.4,504.7 397.6,507.5 398.6,511.1 399.8,504.7 400,505.7 400.6,510.7 400.8,511.2 401.8,511.2 402,510.4 404.2,496.2 404.4,495.4 406.6,494.9 406.8,495 408.8,499 410,505.6 410.4,506.2 412.4,508.9 412.8,509.1 414.8,509.5 415,509.5 418.2,507.4 422.4,507.1 430.8,507.9 540.4,507.9 540.4,530.7 430,530.7 422,531.5 418.2,531.2 415,529.1 414.6,529.1 412.6,529.6 412.4,529.7 410.2,532.6 410,533 408.8,539.6 406.8,543.6 406.2,543.6 404.4,543.2 404.2,542.4 402,528.2 401.8,527.4 400.8,527.4 400.6,527.9 400,532.9 399.8,533.9 398.6,527.5 397.6,531.1 397.4,533.9 397,545.6 396.8,549.6 396.2,533.4 396,533.1 395,534.2 392.6,540.3 390.4,545.3 388.8,550.7 387.8,556.3 387.6,557 386.6,549.4 386,557.5 385.8,559.4 385.4,552.8 384.6,545.6 384.4,544 384.2,543.8 380.4,546.3 380.2,546.1 379.2,542.8 379,543.3 378.4,551.6 377.8,545 377.6,541.4 377.2,530.8 377,530.7 304.6,530.7" fill="#4b5a86" stroke="#4b5a86" stroke-width="0.9" stroke-linejoin="round"/>
<polygon points="304.6,507.9 377,507.9 377.2,507.8 377.6,497.2 377.8,493.6 378.4,487 379,495.3 379.2,495.8 380.2,492.5 380.4,492.3 384.2,494.8 384.4,494.6 385.2,488 385.4,485.8 385.8,479.2 386,481.1 386.6,489.2 387.6,481.6 388,483.4 388.8,487.9 390.6,493.8 393,499.2 395,504.4 396,505.5 396.2,505.2 396.8,489 397.2,498.8 397.4,504.7 397.6,507.5 398.6,511.1 399.8,504.7 400,505.7 400.6,510.7 400.8,511.2 401.8,511.2 402,510.4 404.2,496.2 404.4,495.4 406.6,494.9 406.8,495 408.8,499 410,505.6 410.4,506.2 412.4,508.9 412.8,509.1 414.8,509.5 415,509.5 418.2,507.4 422.4,507.1 430.8,507.9 540.4,507.9 540.4,530.7 430,530.7 422,531.5 418.2,531.2 415,529.1 414.6,529.1 412.6,529.6 412.4,529.7 410.2,532.6 410,533 408.8,539.6 406.8,543.6 406.2,543.6 404.4,543.2 404.2,542.4 402,528.2 401.8,527.4 400.8,527.4 400.6,527.9 400,532.9 399.8,533.9 398.6,527.5 397.6,531.1 397.4,533.9 397,545.6 396.8,549.6 396.2,533.4 396,533.1 395,534.2 392.6,540.3 390.4,545.3 388.8,550.7 387.8,556.3 387.6,557 386.6,549.4 386,557.5 385.8,559.4 385.4,552.8 384.6,545.6 384.4,544 384.2,543.8 380.4,546.3 380.2,546.1 379.2,542.8 379,543.3 378.4,551.6 377.8,545 377.6,541.4 377.2,530.8 377,530.7 304.6,530.7" fill="url(#og)" stroke="#c07c2c" stroke-width="0.5"/>
<rect x="304.6" y="465.1" width="235.9" height="108.4" fill="none" stroke="#7a7a7a" stroke-width="0.65"/>
<path d="M336.7 573.5v-2M336.7 465.1v2M377.4 573.5v-2M377.4 465.1v2M418.2 573.5v-2M418.2 465.1v2M458.9 573.5v-2M458.9 465.1v2M499.7 573.5v-2M499.7 465.1v2M540.4 573.5v-2M540.4 465.1v2M304.6 573.5h2M540.5 573.5h-2M304.6 546.4h2M540.5 546.4h-2M304.6 519.3h2M540.5 519.3h-2M304.6 492.2h2M540.5 492.2h-2M304.6 465.1h2M540.5 465.1h-2" stroke="#7a7a7a" stroke-width="0.65" fill="none"/>
<text x="336.7" y="585" font-size="8.3" text-anchor="middle" textLength="4.4" lengthAdjust="spacingAndGlyphs">1</text>
<text x="377.4" y="585" font-size="8.3" text-anchor="middle" textLength="11" lengthAdjust="spacingAndGlyphs">1.5</text>
<text x="418.2" y="585" font-size="8.3" text-anchor="middle" textLength="4.4" lengthAdjust="spacingAndGlyphs">2</text>
<text x="458.9" y="585" font-size="8.3" text-anchor="middle" textLength="11" lengthAdjust="spacingAndGlyphs">2.5</text>
<text x="499.7" y="585" font-size="8.3" text-anchor="middle" textLength="4.4" lengthAdjust="spacingAndGlyphs">3</text>
<text x="540.4" y="585" font-size="8.3" text-anchor="middle" textLength="11" lengthAdjust="spacingAndGlyphs">3.5</text>
<text x="301" y="577.1" font-size="8.3" text-anchor="end" textLength="7" lengthAdjust="spacingAndGlyphs">-2</text>
<text x="301" y="550" font-size="8.3" text-anchor="end" textLength="7" lengthAdjust="spacingAndGlyphs">-1</text>
<text x="301" y="522.9" font-size="8.3" text-anchor="end" textLength="4.4" lengthAdjust="spacingAndGlyphs">0</text>
<text x="301" y="495.8" font-size="8.3" text-anchor="end" textLength="4.4" lengthAdjust="spacingAndGlyphs">1</text>
<text x="301" y="468.7" font-size="8.3" text-anchor="end" textLength="4.4" lengthAdjust="spacingAndGlyphs">2</text>
<text x="422" y="461.5" font-size="8.4" text-anchor="middle" font-weight="bold" textLength="89" lengthAdjust="spacingAndGlyphs" style='fill:#111;'>BESS Inverter Currents</text>
<text x="422" y="594.5" font-size="8.5" text-anchor="middle" textLength="37.2" lengthAdjust="spacingAndGlyphs">Time (sec)</text>
<text x="291" y="519.5" font-size="8.5" text-anchor="middle" textLength="18.5" lengthAdjust="spacingAndGlyphs" transform="rotate(-90 291 519.5)">I(PU)</text>
<rect x="298.3" y="620.1" width="235.4" height="84.8" fill="#fff"/>
<path d="M330.4 620.1V704.9M371.1 620.1V704.9M411.7 620.1V704.9M452.4 620.1V704.9M493 620.1V704.9M298.3 678.5H533.7M298.3 652H533.7M298.3 625.6H533.7" stroke="#d0d0d0" stroke-width="0.7" fill="none"/>
<polyline points="298.3,637.1 371.3,637.1 371.5,637.2 373.5,639.5 376.5,643.7 377.3,643.9 378.9,644.3 379.1,644.5 380.7,670.3 380.9,668.5 381.9,651.9 383.1,639.3 383.3,638.6 385.5,637.4 389.3,636.8 392.5,640.5 395.1,639.9 398.1,638.1 404.7,637.1 533.7,637.1" fill="none" stroke="#dcb970" stroke-width="1.4" stroke-linejoin="round"/>
<polyline points="298.3,637.1 371.3,637.1 371.5,637.2 373.5,639.5 376.5,643.7 377.3,643.9 378.9,644.3 379.1,644.5 380.7,670.3 380.9,668.5 381.9,651.9 383.1,639.3 383.3,638.6 385.5,637.4 389.3,636.8 392.5,640.5 395.1,639.9 398.1,638.1 404.7,637.1 533.7,637.1" fill="none" stroke="#5c4032" stroke-width="0.95" stroke-linejoin="round"/>
<polyline points="298.3,629.3 370.9,629.3" fill="none" stroke="#3f4850" stroke-width="1.3" stroke-linejoin="round"/>
<polyline points="370.7,629.3 371.5,629.3 373.3,625.5 373.5,625.5 375.9,630.9 376.3,631.2 379.1,632.9 380.5,649.7 381.7,669.1 384.9,648.1 388.1,639.2 389.9,636.2 390.3,639.5 391.7,653.5 391.9,654.9 393.3,645 393.5,644.6 394.9,647.3 395.1,647.1 397.5,629.1 398.3,623.8 399.5,620.8 401.3,620.8 401.5,621 403.9,626.4 407.1,630.3 407.7,630.2 412.3,628.8 417.7,629.3 419.7,629.3" fill="none" stroke="#3f4850" stroke-width="1.0" stroke-linejoin="round"/>
<polyline points="415.8,629.2 417.8,629.3 533.6,629.3" fill="none" stroke="#3f4850" stroke-width="1.3" stroke-linejoin="round"/>
<polyline points="298.3,670.7 370.9,670.7" fill="none" stroke="#c9a77a" stroke-width="1.7" stroke-linejoin="round"/>
<polyline points="415.8,670.4 417.4,670.7 533.6,670.7" fill="none" stroke="#c9a77a" stroke-width="1.7" stroke-linejoin="round"/>
<polyline points="298.3,670.7 370.9,670.7" fill="none" stroke="#3a3432" stroke-width="1.2" stroke-linejoin="round"/>
<polyline points="370.7,670.7 371.5,670.7 373.5,664.6 373.7,664.1 375.3,666.6 379.1,667.9 381.1,681.7 382.9,697.3 383.1,697.2 384.5,691.8 386.3,685.9 389.5,677 389.7,677.7 391.7,692.2 391.9,693.2 393.7,684.2 393.9,684.1 395.3,686.8 395.5,686.6 397.7,673.1 400.1,661.7 400.3,661.7 402.7,663.5 405.3,669.9 407.7,672.3 407.9,672.3 412.1,669.9 412.3,669.8 417.5,670.7 419.7,670.7" fill="none" stroke="#3a3432" stroke-width="1.0" stroke-linejoin="round"/>
<polyline points="415.8,670.4 417.4,670.7 533.6,670.7" fill="none" stroke="#3a3432" stroke-width="1.2" stroke-linejoin="round"/>
<rect x="298.3" y="620.1" width="235.4" height="84.8" fill="none" stroke="#808080" stroke-width="0.65"/>
<text x="330.4" y="713.2" font-size="5.2" text-anchor="middle" textLength="1.8" lengthAdjust="spacingAndGlyphs">1</text>
<text x="371.1" y="713.2" font-size="5.2" text-anchor="middle" textLength="5.2" lengthAdjust="spacingAndGlyphs">1.5</text>
<text x="411.7" y="713.2" font-size="5.2" text-anchor="middle" textLength="1.8" lengthAdjust="spacingAndGlyphs">2</text>
<text x="452.4" y="713.2" font-size="5.2" text-anchor="middle" textLength="5.2" lengthAdjust="spacingAndGlyphs">2.5</text>
<text x="493" y="713.2" font-size="5.2" text-anchor="middle" textLength="1.8" lengthAdjust="spacingAndGlyphs">3</text>
<text x="533.7" y="713.2" font-size="5.2" text-anchor="middle" textLength="5.2" lengthAdjust="spacingAndGlyphs">3.5</text>
<text x="297" y="706.8" font-size="5.2" text-anchor="end" textLength="5.2" lengthAdjust="spacingAndGlyphs">-50</text>
<text x="297" y="680.3" font-size="5.2" text-anchor="end" textLength="1.8" lengthAdjust="spacingAndGlyphs">0</text>
<text x="297" y="653.9" font-size="5.2" text-anchor="end" textLength="3.5" lengthAdjust="spacingAndGlyphs">50</text>
<text x="297" y="627.5" font-size="5.2" text-anchor="end" textLength="5.2" lengthAdjust="spacingAndGlyphs">100</text>
<text x="415.5" y="617.8" font-size="5.6" text-anchor="middle" font-weight="bold" textLength="31.6" lengthAdjust="spacingAndGlyphs" style='fill:#111;'>Real Power Output</text>
<text x="415.5" y="721" font-size="5.2" text-anchor="middle" textLength="17" lengthAdjust="spacingAndGlyphs">Time (sec)</text>
<text x="290" y="662.7" font-size="3.6" text-anchor="middle" textLength="10" lengthAdjust="spacingAndGlyphs" transform="rotate(-90 290 662.7)">MW</text>
<rect x="504.8" y="625.1" width="26.9" height="21.8" fill="#fff" stroke="#9a9a9a" stroke-width="0.6"/>
<path d="M506 629.5H515.6" stroke="#3c4650" stroke-width="1.1"/>
<text x="516.2" y="631" font-size="4.6" text-anchor="start" textLength="9.9" lengthAdjust="spacingAndGlyphs">P Total</text>
<path d="M506 636.3H515.6" stroke="#3a3a3a" stroke-width="1.1"/>
<text x="516.2" y="637.8" font-size="4.6" text-anchor="start" textLength="12.8" lengthAdjust="spacingAndGlyphs">P Battery</text>
<path d="M506 643H515.6" stroke="#3a3a3a" stroke-width="1.1"/>
<text x="516.2" y="644.5" font-size="4.6" text-anchor="start" textLength="14.2" lengthAdjust="spacingAndGlyphs">P PV Plant</text>
<rect x="298.3" y="738.3" width="235.4" height="84.1" fill="#fff"/>
<path d="M330.4 738.3V822.4M371.1 738.3V822.4M411.7 738.3V822.4M452.4 738.3V822.4M493 738.3V822.4M298.3 808.4H533.7M298.3 794.4H533.7M298.3 780.3H533.7M298.3 766.3H533.7M298.3 752.3H533.7" stroke="#d0d0d0" stroke-width="0.7" fill="none"/>
<polyline points="298.3,806.3 370.9,806.1" fill="none" stroke="#2a2a2a" stroke-width="1.7" stroke-linejoin="round"/>
<polyline points="370.7,806.1 372.7,806.2 374.7,806.4 378.5,809.5 380.3,804.2 380.5,802.9 381.9,788.9 382.1,789.4 383.9,798.9 385.5,806.4 387.3,792 387.5,791.4 391.7,808.2 391.9,808.6 393.7,794.2 393.9,794.5 395.7,806.4 397.5,811.2 397.7,811.3 402.1,806.4 419.7,806.4" fill="none" stroke="#2a2a2a" stroke-width="0.85" stroke-linejoin="round"/>
<polyline points="415.8,806.4 533.6,806.4" fill="none" stroke="#2a2a2a" stroke-width="1.7" stroke-linejoin="round"/>
<polyline points="298.3,806.4 370.9,806.4" fill="none" stroke="#39445c" stroke-width="1.3" stroke-linejoin="round"/>
<polyline points="370.7,806.4 371.5,806.4 372.3,783.2 373.3,776.6 373.5,776 375.9,779.6 376.1,779.6 379.1,779 380.3,769.1 380.7,762.2 381.7,742.5 383.5,787.6 383.7,790.8 384.7,799.8 384.9,801 386.7,788.4 386.9,788.5 391.1,807.1 391.3,807 393.5,787.5 395.1,801.6 397.5,817.2 397.7,817.5 400.7,809.1 400.9,808.8 403.9,805.8 404.3,805.9 407.1,807 412.5,806.4 419.7,806.4" fill="none" stroke="#39445c" stroke-width="0.9" stroke-linejoin="round"/>
<polyline points="415.8,806.4 533.6,806.4" fill="none" stroke="#39445c" stroke-width="1.3" stroke-linejoin="round"/>
<polyline points="298.3,808.9 370.9,808.9" fill="none" stroke="#cfa347" stroke-width="1.8" stroke-linejoin="round"/>
<polyline points="370.7,808.9 371.5,808.9 372.1,788.6 372.7,780 372.9,779.1 375.9,781.5 376.5,781.4 379.1,780.9 380.7,771.7 381.9,762.1 382.3,767.9 383.3,783.1 383.9,790.3 385.5,806.3 387.3,799.2 387.5,799 390.5,807.4 390.7,807.1 393.3,795.3 393.5,795.6 396.3,812.6 397.7,800.1 397.9,799 399.3,806.5 400.7,811.2 400.9,811.4 404.5,809 404.9,808.9 419.7,808.9" fill="none" stroke="#cfa347" stroke-width="1.1" stroke-linejoin="round"/>
<polyline points="415.8,808.9 533.6,808.9" fill="none" stroke="#cfa347" stroke-width="1.8" stroke-linejoin="round"/>
<polyline points="370.7,808.9 371.5,808.9 372.1,788.6 372.7,780 372.9,779.1 375.9,781.5 376.5,781.4 379.1,780.9 380.7,771.7 381.9,762.1 382.3,767.9 383.3,783.1 383.9,790.3 385.5,806.3 387.3,799.2 387.5,799 390.5,807.4 390.7,807.1 393.3,795.3 393.5,795.6 396.3,812.6 397.7,800.1 397.9,799 399.3,806.5 400.7,811.2 400.9,811.4 404.5,809 404.9,808.9 419.7,808.9" fill="none" stroke="#6e5136" stroke-width="0.45" stroke-linejoin="round"/>
<rect x="298.3" y="738.3" width="235.4" height="84.1" fill="none" stroke="#808080" stroke-width="0.65"/>
<text x="330.4" y="830.7" font-size="5.2" text-anchor="middle" textLength="1.8" lengthAdjust="spacingAndGlyphs">1</text>
<text x="371.1" y="830.7" font-size="5.2" text-anchor="middle" textLength="5.2" lengthAdjust="spacingAndGlyphs">1.5</text>
<text x="411.7" y="830.7" font-size="5.2" text-anchor="middle" textLength="1.8" lengthAdjust="spacingAndGlyphs">2</text>
<text x="452.4" y="830.7" font-size="5.2" text-anchor="middle" textLength="5.2" lengthAdjust="spacingAndGlyphs">2.5</text>
<text x="493" y="830.7" font-size="5.2" text-anchor="middle" textLength="1.8" lengthAdjust="spacingAndGlyphs">3</text>
<text x="533.7" y="830.7" font-size="5.2" text-anchor="middle" textLength="5.2" lengthAdjust="spacingAndGlyphs">3.5</text>
<text x="297" y="824.3" font-size="5.2" text-anchor="end" textLength="5.2" lengthAdjust="spacingAndGlyphs">-20</text>
<text x="297" y="810.3" font-size="5.2" text-anchor="end" textLength="1.8" lengthAdjust="spacingAndGlyphs">0</text>
<text x="297" y="796.2" font-size="5.2" text-anchor="end" textLength="3.5" lengthAdjust="spacingAndGlyphs">20</text>
<text x="297" y="782.2" font-size="5.2" text-anchor="end" textLength="3.5" lengthAdjust="spacingAndGlyphs">40</text>
<text x="297" y="768.2" font-size="5.2" text-anchor="end" textLength="3.5" lengthAdjust="spacingAndGlyphs">60</text>
<text x="297" y="754.2" font-size="5.2" text-anchor="end" textLength="3.5" lengthAdjust="spacingAndGlyphs">80</text>
<text x="297" y="740.2" font-size="5.2" text-anchor="end" textLength="5.2" lengthAdjust="spacingAndGlyphs">100</text>
<text x="415.5" y="735.5" font-size="5.6" text-anchor="middle" font-weight="bold" textLength="39" lengthAdjust="spacingAndGlyphs" style='fill:#111;'>Reactive Power Output</text>
<text x="415.5" y="838" font-size="5.2" text-anchor="middle" textLength="17" lengthAdjust="spacingAndGlyphs">Time (sec)</text>
<text x="290" y="780" font-size="3.6" text-anchor="middle" textLength="15" lengthAdjust="spacingAndGlyphs" transform="rotate(-90 290 780)">MVAR</text>
<rect x="504.8" y="742.5" width="26.9" height="23" fill="#fff" stroke="#9a9a9a" stroke-width="0.6"/>
<path d="M506 747.2H515.6" stroke="#222" stroke-width="1.1"/>
<text x="516.2" y="748.7" font-size="4.6" text-anchor="start" textLength="9.9" lengthAdjust="spacingAndGlyphs">Q Total</text>
<path d="M506 754H515.6" stroke="#222" stroke-width="1.1"/>
<text x="516.2" y="755.5" font-size="4.6" text-anchor="start" textLength="12.8" lengthAdjust="spacingAndGlyphs">Q Battery</text>
<path d="M506 760.8H515.6" stroke="#222" stroke-width="1.1"/>
<text x="516.2" y="762.3" font-size="4.6" text-anchor="start" textLength="14.2" lengthAdjust="spacingAndGlyphs">Q PV Plant</text>
<text x="132.5" y="871" font-size="15.3" text-anchor="middle" style='fill:#111;font-family:"Liberation Serif","Noto Serif CJK SC",serif;stroke:none;'>(<tspan font-weight="bold">a</tspan>)</text>
<text x="410.6" y="871" font-size="15.3" text-anchor="middle" style='fill:#111;font-family:"Liberation Serif","Noto Serif CJK SC",serif;stroke:none;'>(<tspan font-weight="bold">b</tspan>)</text>
</svg></body></html>
